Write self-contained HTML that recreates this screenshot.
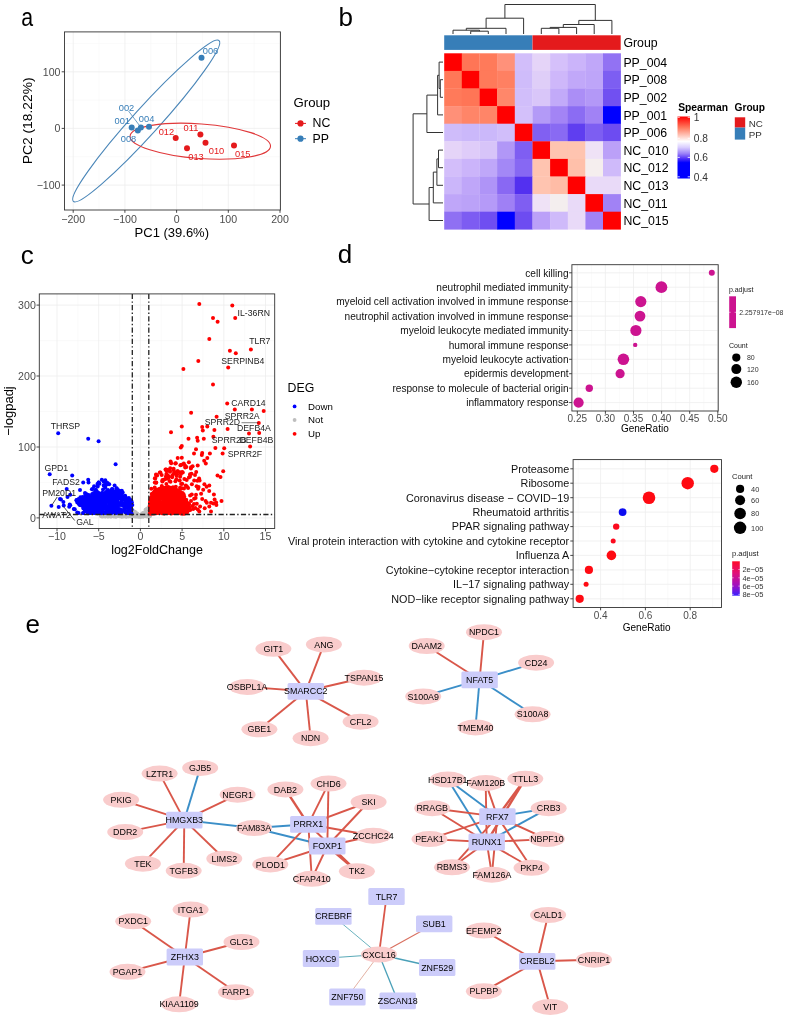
<!DOCTYPE html>
<html><head><meta charset="utf-8"><title>Figure</title>
<style>html,body{margin:0;padding:0;background:#fff;}svg{display:block;font-family:"Liberation Sans", Arial, sans-serif;}</style></head>
<body><svg width="785" height="1017" viewBox="0 0 785 1017">
<rect width="785" height="1017" fill="#fff"/>
<text x="338.5" y="25.8" font-size="26" fill="#000" text-anchor="start" >b</text>
<text x="20.8" y="263.6" font-size="26" fill="#000" text-anchor="start" >c</text>
<text x="337.8" y="263" font-size="26" fill="#000" text-anchor="start" >d</text>
<text x="25.4" y="633" font-size="26" fill="#000" text-anchor="start" >e</text>
<text x="0" y="0" font-size="26" fill="#000" transform="translate(21.2 25.8) scale(0.82 1)">a</text>
<line x1="99" y1="31.9" x2="99" y2="210" stroke="#f5f5f5" stroke-width="0.5" />
<line x1="150.8" y1="31.9" x2="150.8" y2="210" stroke="#f5f5f5" stroke-width="0.5" />
<line x1="202.4" y1="31.9" x2="202.4" y2="210" stroke="#f5f5f5" stroke-width="0.5" />
<line x1="254.1" y1="31.9" x2="254.1" y2="210" stroke="#f5f5f5" stroke-width="0.5" />
<line x1="64.5" y1="156.7" x2="280.4" y2="156.7" stroke="#f5f5f5" stroke-width="0.5" />
<line x1="64.5" y1="100.1" x2="280.4" y2="100.1" stroke="#f5f5f5" stroke-width="0.5" />
<line x1="64.5" y1="43.4" x2="280.4" y2="43.4" stroke="#f5f5f5" stroke-width="0.5" />
<line x1="73.2" y1="31.9" x2="73.2" y2="210" stroke="#eeeeee" stroke-width="0.8" />
<line x1="124.9" y1="31.9" x2="124.9" y2="210" stroke="#eeeeee" stroke-width="0.8" />
<line x1="176.6" y1="31.9" x2="176.6" y2="210" stroke="#eeeeee" stroke-width="0.8" />
<line x1="228.3" y1="31.9" x2="228.3" y2="210" stroke="#eeeeee" stroke-width="0.8" />
<line x1="280" y1="31.9" x2="280" y2="210" stroke="#eeeeee" stroke-width="0.8" />
<line x1="64.5" y1="185.1" x2="280.4" y2="185.1" stroke="#eeeeee" stroke-width="0.8" />
<line x1="64.5" y1="128.4" x2="280.4" y2="128.4" stroke="#eeeeee" stroke-width="0.8" />
<line x1="64.5" y1="71.8" x2="280.4" y2="71.8" stroke="#eeeeee" stroke-width="0.8" />
<ellipse cx="146.2" cy="121" rx="108.5" ry="13.2" transform="rotate(-47.8 146.2 121)" fill="none" stroke="#4a86b8" stroke-width="1.1"/>
<ellipse cx="200.3" cy="141.2" rx="70.4" ry="17.3" transform="rotate(4.2 200.3 141.2)" fill="none" stroke="#e0383a" stroke-width="1.1"/>
<circle cx="131.7" cy="127.5" r="3" fill="#377eb8"/>
<circle cx="137.8" cy="130.6" r="3" fill="#377eb8"/>
<circle cx="140.9" cy="127.5" r="3" fill="#377eb8"/>
<circle cx="149" cy="126.8" r="3" fill="#377eb8"/>
<circle cx="201.5" cy="57.7" r="3" fill="#377eb8"/>
<circle cx="175.7" cy="138" r="3" fill="#e41a1c"/>
<circle cx="200.4" cy="134.4" r="3" fill="#e41a1c"/>
<circle cx="205.5" cy="142.8" r="3" fill="#e41a1c"/>
<circle cx="187" cy="148.2" r="3" fill="#e41a1c"/>
<circle cx="234" cy="145.6" r="3" fill="#e41a1c"/>
<line x1="128.5" y1="111" x2="139.5" y2="125.5" stroke="#4a86b8" stroke-width="0.8" />
<text x="126.5" y="110.5" font-size="9.3" fill="#377eb8" text-anchor="middle" >002</text>
<text x="122.3" y="123.5" font-size="9.3" fill="#377eb8" text-anchor="middle" >001</text>
<text x="128.5" y="142.2" font-size="9.3" fill="#377eb8" text-anchor="middle" >008</text>
<text x="146.6" y="121.8" font-size="9.3" fill="#377eb8" text-anchor="middle" >004</text>
<text x="210.5" y="53.5" font-size="9.3" fill="#377eb8" text-anchor="middle" >006</text>
<text x="166.4" y="134.8" font-size="9.3" fill="#e41a1c" text-anchor="middle" >012</text>
<text x="191" y="131" font-size="9.3" fill="#e41a1c" text-anchor="middle" >011</text>
<text x="216.5" y="153.9" font-size="9.3" fill="#e41a1c" text-anchor="middle" >010</text>
<text x="196" y="159.8" font-size="9.3" fill="#e41a1c" text-anchor="middle" >013</text>
<text x="242.8" y="156.5" font-size="9.3" fill="#e41a1c" text-anchor="middle" >015</text>
<rect x="64.5" y="31.9" width="215.89999999999998" height="178.1" fill="none" stroke="#333" stroke-width="0.9"/>
<line x1="73.2" y1="210" x2="73.2" y2="212.8" stroke="#333" stroke-width="0.9" />
<text x="73.2" y="222.8" font-size="10.6" fill="#4d4d4d" text-anchor="middle" >−200</text>
<line x1="124.9" y1="210" x2="124.9" y2="212.8" stroke="#333" stroke-width="0.9" />
<text x="124.9" y="222.8" font-size="10.6" fill="#4d4d4d" text-anchor="middle" >−100</text>
<line x1="176.6" y1="210" x2="176.6" y2="212.8" stroke="#333" stroke-width="0.9" />
<text x="176.6" y="222.8" font-size="10.6" fill="#4d4d4d" text-anchor="middle" >0</text>
<line x1="228.3" y1="210" x2="228.3" y2="212.8" stroke="#333" stroke-width="0.9" />
<text x="228.3" y="222.8" font-size="10.6" fill="#4d4d4d" text-anchor="middle" >100</text>
<line x1="280" y1="210" x2="280" y2="212.8" stroke="#333" stroke-width="0.9" />
<text x="280" y="222.8" font-size="10.6" fill="#4d4d4d" text-anchor="middle" >200</text>
<line x1="61.7" y1="185.1" x2="64.5" y2="185.1" stroke="#333" stroke-width="0.9" />
<text x="60.5" y="188.9" font-size="10.6" fill="#4d4d4d" text-anchor="end" >−100</text>
<line x1="61.7" y1="128.4" x2="64.5" y2="128.4" stroke="#333" stroke-width="0.9" />
<text x="60.5" y="132.2" font-size="10.6" fill="#4d4d4d" text-anchor="end" >0</text>
<line x1="61.7" y1="71.8" x2="64.5" y2="71.8" stroke="#333" stroke-width="0.9" />
<text x="60.5" y="75.5" font-size="10.6" fill="#4d4d4d" text-anchor="end" >100</text>
<text x="171.8" y="236.8" font-size="13" fill="#000" text-anchor="middle" >PC1 (39.6%)</text>
<text transform="translate(31.7 120.8) rotate(-90)" font-size="13.4" fill="#000" text-anchor="middle" textLength="87" lengthAdjust="spacingAndGlyphs">PC2 (18.22%)</text>
<text x="293.5" y="106.9" font-size="13.2" fill="#000" text-anchor="start" >Group</text>
<line x1="295" y1="123.4" x2="306" y2="123.4" stroke="#e41a1c" stroke-width="1" />
<circle cx="300.5" cy="123.4" r="3.1" fill="#e41a1c"/>
<text x="312.6" y="127.3" font-size="12.3" fill="#000" text-anchor="start" >NC</text>
<line x1="295" y1="138.7" x2="306" y2="138.7" stroke="#377eb8" stroke-width="1" />
<circle cx="300.5" cy="138.7" r="3.1" fill="#377eb8"/>
<text x="312.6" y="142.6" font-size="12.3" fill="#000" text-anchor="start" >PP</text>
<rect x="444.2" y="53.3" width="17.9" height="17.9" fill="#FF0000"/>
<rect x="461.8" y="53.3" width="17.9" height="17.9" fill="#FF7556"/>
<rect x="479.5" y="53.3" width="17.9" height="17.9" fill="#FF7A5A"/>
<rect x="497.1" y="53.3" width="17.9" height="17.9" fill="#FF917A"/>
<rect x="514.8" y="53.3" width="17.9" height="17.9" fill="#D2BEFA"/>
<rect x="532.5" y="53.3" width="17.9" height="17.9" fill="#E5D4F8"/>
<rect x="550.1" y="53.3" width="17.9" height="17.9" fill="#D5C0FA"/>
<rect x="567.8" y="53.3" width="17.9" height="17.9" fill="#CBB4FA"/>
<rect x="585.4" y="53.3" width="17.9" height="17.9" fill="#C0A7F9"/>
<rect x="603" y="53.3" width="17.9" height="17.9" fill="#9272F3"/>
<rect x="444.2" y="70.9" width="17.9" height="17.9" fill="#FF7858"/>
<rect x="461.8" y="70.9" width="17.9" height="17.9" fill="#FF0000"/>
<rect x="479.5" y="70.9" width="17.9" height="17.9" fill="#FF7A5A"/>
<rect x="497.1" y="70.9" width="17.9" height="17.9" fill="#FF8062"/>
<rect x="514.8" y="70.9" width="17.9" height="17.9" fill="#CFBCFA"/>
<rect x="532.5" y="70.9" width="17.9" height="17.9" fill="#DFCEF8"/>
<rect x="550.1" y="70.9" width="17.9" height="17.9" fill="#CEB7FA"/>
<rect x="567.8" y="70.9" width="17.9" height="17.9" fill="#C1A8F9"/>
<rect x="585.4" y="70.9" width="17.9" height="17.9" fill="#BEA5F9"/>
<rect x="603" y="70.9" width="17.9" height="17.9" fill="#7D5EF2"/>
<rect x="444.2" y="88.5" width="17.9" height="17.9" fill="#FF7A5A"/>
<rect x="461.8" y="88.5" width="17.9" height="17.9" fill="#FF7556"/>
<rect x="479.5" y="88.5" width="17.9" height="17.9" fill="#FF0000"/>
<rect x="497.1" y="88.5" width="17.9" height="17.9" fill="#FF876A"/>
<rect x="514.8" y="88.5" width="17.9" height="17.9" fill="#D1BEFA"/>
<rect x="532.5" y="88.5" width="17.9" height="17.9" fill="#D9C6F9"/>
<rect x="550.1" y="88.5" width="17.9" height="17.9" fill="#C2AAF9"/>
<rect x="567.8" y="88.5" width="17.9" height="17.9" fill="#AB8EF6"/>
<rect x="585.4" y="88.5" width="17.9" height="17.9" fill="#B398F7"/>
<rect x="603" y="88.5" width="17.9" height="17.9" fill="#7150F1"/>
<rect x="444.2" y="106.1" width="17.9" height="17.9" fill="#FF9078"/>
<rect x="461.8" y="106.1" width="17.9" height="17.9" fill="#FF8568"/>
<rect x="479.5" y="106.1" width="17.9" height="17.9" fill="#FF8568"/>
<rect x="497.1" y="106.1" width="17.9" height="17.9" fill="#FF0000"/>
<rect x="514.8" y="106.1" width="17.9" height="17.9" fill="#D3C0FA"/>
<rect x="532.5" y="106.1" width="17.9" height="17.9" fill="#B39AF7"/>
<rect x="550.1" y="106.1" width="17.9" height="17.9" fill="#A384F5"/>
<rect x="567.8" y="106.1" width="17.9" height="17.9" fill="#8B6CF3"/>
<rect x="585.4" y="106.1" width="17.9" height="17.9" fill="#A182F5"/>
<rect x="603" y="106.1" width="17.9" height="17.9" fill="#0000FF"/>
<rect x="444.2" y="123.7" width="17.9" height="17.9" fill="#CFBCFA"/>
<rect x="461.8" y="123.7" width="17.9" height="17.9" fill="#CBB8FA"/>
<rect x="479.5" y="123.7" width="17.9" height="17.9" fill="#CBB8FA"/>
<rect x="497.1" y="123.7" width="17.9" height="17.9" fill="#D1BEFA"/>
<rect x="514.8" y="123.7" width="17.9" height="17.9" fill="#FF0000"/>
<rect x="532.5" y="123.7" width="17.9" height="17.9" fill="#8160F2"/>
<rect x="550.1" y="123.7" width="17.9" height="17.9" fill="#896AF3"/>
<rect x="567.8" y="123.7" width="17.9" height="17.9" fill="#5F3EF0"/>
<rect x="585.4" y="123.7" width="17.9" height="17.9" fill="#7D5EF2"/>
<rect x="603" y="123.7" width="17.9" height="17.9" fill="#6D4CF1"/>
<rect x="444.2" y="141.3" width="17.9" height="17.9" fill="#E5D4F8"/>
<rect x="461.8" y="141.3" width="17.9" height="17.9" fill="#DFCCF9"/>
<rect x="479.5" y="141.3" width="17.9" height="17.9" fill="#D7C4F9"/>
<rect x="497.1" y="141.3" width="17.9" height="17.9" fill="#B197F7"/>
<rect x="514.8" y="141.3" width="17.9" height="17.9" fill="#7F5EF2"/>
<rect x="532.5" y="141.3" width="17.9" height="17.9" fill="#FF0000"/>
<rect x="550.1" y="141.3" width="17.9" height="17.9" fill="#FFC4B0"/>
<rect x="567.8" y="141.3" width="17.9" height="17.9" fill="#FFC4B0"/>
<rect x="585.4" y="141.3" width="17.9" height="17.9" fill="#EFE2F6"/>
<rect x="603" y="141.3" width="17.9" height="17.9" fill="#BBA0F8"/>
<rect x="444.2" y="158.9" width="17.9" height="17.9" fill="#D3BEFA"/>
<rect x="461.8" y="158.9" width="17.9" height="17.9" fill="#CBB4FA"/>
<rect x="479.5" y="158.9" width="17.9" height="17.9" fill="#BFA7F9"/>
<rect x="497.1" y="158.9" width="17.9" height="17.9" fill="#A388F6"/>
<rect x="514.8" y="158.9" width="17.9" height="17.9" fill="#8768F3"/>
<rect x="532.5" y="158.9" width="17.9" height="17.9" fill="#FFC4B0"/>
<rect x="550.1" y="158.9" width="17.9" height="17.9" fill="#FF0000"/>
<rect x="567.8" y="158.9" width="17.9" height="17.9" fill="#FFC0AA"/>
<rect x="585.4" y="158.9" width="17.9" height="17.9" fill="#F5EEEE"/>
<rect x="603" y="158.9" width="17.9" height="17.9" fill="#CFBAFA"/>
<rect x="444.2" y="176.5" width="17.9" height="17.9" fill="#CBB6FA"/>
<rect x="461.8" y="176.5" width="17.9" height="17.9" fill="#BFA6F9"/>
<rect x="479.5" y="176.5" width="17.9" height="17.9" fill="#AF94F7"/>
<rect x="497.1" y="176.5" width="17.9" height="17.9" fill="#8968F3"/>
<rect x="514.8" y="176.5" width="17.9" height="17.9" fill="#5330F0"/>
<rect x="532.5" y="176.5" width="17.9" height="17.9" fill="#FFC4B0"/>
<rect x="550.1" y="176.5" width="17.9" height="17.9" fill="#FFBCA6"/>
<rect x="567.8" y="176.5" width="17.9" height="17.9" fill="#FF0000"/>
<rect x="585.4" y="176.5" width="17.9" height="17.9" fill="#E9DAF8"/>
<rect x="603" y="176.5" width="17.9" height="17.9" fill="#E9DAF8"/>
<rect x="444.2" y="194.1" width="17.9" height="17.9" fill="#BFA6F9"/>
<rect x="461.8" y="194.1" width="17.9" height="17.9" fill="#BBA2F8"/>
<rect x="479.5" y="194.1" width="17.9" height="17.9" fill="#B59AF8"/>
<rect x="497.1" y="194.1" width="17.9" height="17.9" fill="#9F80F5"/>
<rect x="514.8" y="194.1" width="17.9" height="17.9" fill="#7F5EF2"/>
<rect x="532.5" y="194.1" width="17.9" height="17.9" fill="#EFE2F6"/>
<rect x="550.1" y="194.1" width="17.9" height="17.9" fill="#F4EEEE"/>
<rect x="567.8" y="194.1" width="17.9" height="17.9" fill="#E9DAF8"/>
<rect x="585.4" y="194.1" width="17.9" height="17.9" fill="#FF0000"/>
<rect x="603" y="194.1" width="17.9" height="17.9" fill="#A182F5"/>
<rect x="444.2" y="211.7" width="17.9" height="17.9" fill="#8F70F3"/>
<rect x="461.8" y="211.7" width="17.9" height="17.9" fill="#7D5CF2"/>
<rect x="479.5" y="211.7" width="17.9" height="17.9" fill="#6F4EF1"/>
<rect x="497.1" y="211.7" width="17.9" height="17.9" fill="#0000FF"/>
<rect x="514.8" y="211.7" width="17.9" height="17.9" fill="#6D4CF1"/>
<rect x="532.5" y="211.7" width="17.9" height="17.9" fill="#BBA0F8"/>
<rect x="550.1" y="211.7" width="17.9" height="17.9" fill="#CFBAFA"/>
<rect x="567.8" y="211.7" width="17.9" height="17.9" fill="#E9DAF8"/>
<rect x="585.4" y="211.7" width="17.9" height="17.9" fill="#A182F5"/>
<rect x="603" y="211.7" width="17.9" height="17.9" fill="#FF0000"/>
<rect x="444.2" y="35.3" width="88.2" height="14.6" fill="#377eb8"/>
<rect x="532.5" y="35.3" width="88.2" height="14.6" fill="#e41a1c"/>
<text x="623.4" y="47.4" font-size="12.3" fill="#000" text-anchor="start" >Group</text>
<text x="623.4" y="66.7" font-size="12.3" fill="#000" text-anchor="start" >PP_004</text>
<text x="623.4" y="84.3" font-size="12.3" fill="#000" text-anchor="start" >PP_008</text>
<text x="623.4" y="101.9" font-size="12.3" fill="#000" text-anchor="start" >PP_002</text>
<text x="623.4" y="119.5" font-size="12.3" fill="#000" text-anchor="start" >PP_001</text>
<text x="623.4" y="137.1" font-size="12.3" fill="#000" text-anchor="start" >PP_006</text>
<text x="623.4" y="154.7" font-size="12.3" fill="#000" text-anchor="start" >NC_010</text>
<text x="623.4" y="172.3" font-size="12.3" fill="#000" text-anchor="start" >NC_012</text>
<text x="623.4" y="189.9" font-size="12.3" fill="#000" text-anchor="start" >NC_013</text>
<text x="623.4" y="207.5" font-size="12.3" fill="#000" text-anchor="start" >NC_011</text>
<text x="623.4" y="225.1" font-size="12.3" fill="#000" text-anchor="start" >NC_015</text>
<path d="M470.7 34.0 V31.2 H488.3 V34.0" stroke="#333" stroke-width="1" fill="none"/>
<path d="M453 34.0 V30.2 H479.5 V31.2" stroke="#333" stroke-width="1" fill="none"/>
<path d="M466.3 30.2 V28.3 H506 V34.0" stroke="#333" stroke-width="1" fill="none"/>
<path d="M486.1 28.3 V18.2 H523.6 V34.0" stroke="#333" stroke-width="1" fill="none"/>
<path d="M541.3 34.0 V28.3 H558.9 V34.0" stroke="#333" stroke-width="1" fill="none"/>
<path d="M550.1 28.3 V27.4 H576.6 V34.0" stroke="#333" stroke-width="1" fill="none"/>
<path d="M563.3 27.4 V24.5 H594.2 V34.0" stroke="#333" stroke-width="1" fill="none"/>
<path d="M578.8 24.5 V20.4 H611.9 V34.0" stroke="#333" stroke-width="1" fill="none"/>
<path d="M504.9 18.2 V4.5 H595.3 V20.4" stroke="#333" stroke-width="1" fill="none"/>
<path d="M443.0 79.7 H440.3 V97.3 H443.0" stroke="#333" stroke-width="1" fill="none"/>
<path d="M443.0 62.1 H439.1 V88.5 H440.3" stroke="#333" stroke-width="1" fill="none"/>
<path d="M439.1 75.3 H437.6 V114.9 H443.0" stroke="#333" stroke-width="1" fill="none"/>
<path d="M437.6 95.1 H426.9 V132.5 H443.0" stroke="#333" stroke-width="1" fill="none"/>
<path d="M443.0 150.1 H438.5 V167.7 H443.0" stroke="#333" stroke-width="1" fill="none"/>
<path d="M438.5 158.9 H436.9 V185.3 H443.0" stroke="#333" stroke-width="1" fill="none"/>
<path d="M436.9 172.1 H433.3 V202.9 H443.0" stroke="#333" stroke-width="1" fill="none"/>
<path d="M433.3 187.5 H429.1 V220.5 H443.0" stroke="#333" stroke-width="1" fill="none"/>
<path d="M426.9 113.8 H413.1 V204 H429.1" stroke="#333" stroke-width="1" fill="none"/>
<text x="678.2" y="111" font-size="10.3" fill="#000" text-anchor="start" font-weight="bold">Spearman</text>
<defs><linearGradient id="sp" x1="0" y1="0" x2="0" y2="1"><stop offset="0" stop-color="#ff0000"/><stop offset="0.18" stop-color="#ff7a5e"/><stop offset="0.40" stop-color="#ffffff"/><stop offset="0.5" stop-color="#d8ccff"/><stop offset="0.6" stop-color="#9a80f8"/><stop offset="0.68" stop-color="#5030f8"/><stop offset="0.745" stop-color="#0000ff"/><stop offset="1" stop-color="#0000ff"/></linearGradient></defs>
<rect x="677.5" y="116.5" width="12.5" height="62" fill="url(#sp)"/>
<line x1="677.5" y1="117.3" x2="679.8" y2="117.3" stroke="#fff" stroke-width="0.8" />
<line x1="687.7" y1="117.3" x2="690" y2="117.3" stroke="#fff" stroke-width="0.8" />
<text x="693.8" y="121" font-size="10.2" fill="#333" text-anchor="start" >1</text>
<line x1="677.5" y1="138.3" x2="679.8" y2="138.3" stroke="#fff" stroke-width="0.8" />
<line x1="687.7" y1="138.3" x2="690" y2="138.3" stroke="#fff" stroke-width="0.8" />
<text x="693.8" y="142" font-size="10.2" fill="#333" text-anchor="start" >0.8</text>
<line x1="677.5" y1="157.4" x2="679.8" y2="157.4" stroke="#fff" stroke-width="0.8" />
<line x1="687.7" y1="157.4" x2="690" y2="157.4" stroke="#fff" stroke-width="0.8" />
<text x="693.8" y="161.1" font-size="10.2" fill="#333" text-anchor="start" >0.6</text>
<line x1="677.5" y1="176.8" x2="679.8" y2="176.8" stroke="#fff" stroke-width="0.8" />
<line x1="687.7" y1="176.8" x2="690" y2="176.8" stroke="#fff" stroke-width="0.8" />
<text x="693.8" y="180.5" font-size="10.2" fill="#333" text-anchor="start" >0.4</text>
<text x="734.5" y="111" font-size="10.2" fill="#000" text-anchor="start" font-weight="bold">Group</text>
<rect x="734.8" y="117.3" width="10.4" height="10.3" fill="#e41a1c"/>
<rect x="734.8" y="127.6" width="10.4" height="12" fill="#377eb8"/>
<text x="748.8" y="126.6" font-size="9.8" fill="#333" text-anchor="start" >NC</text>
<text x="748.8" y="137.8" font-size="9.8" fill="#333" text-anchor="start" >PP</text>
<line x1="77.9" y1="293.9" x2="77.9" y2="528.5" stroke="#f5f5f5" stroke-width="0.5" />
<line x1="119.6" y1="293.9" x2="119.6" y2="528.5" stroke="#f5f5f5" stroke-width="0.5" />
<line x1="161.2" y1="293.9" x2="161.2" y2="528.5" stroke="#f5f5f5" stroke-width="0.5" />
<line x1="202.9" y1="293.9" x2="202.9" y2="528.5" stroke="#f5f5f5" stroke-width="0.5" />
<line x1="244.7" y1="293.9" x2="244.7" y2="528.5" stroke="#f5f5f5" stroke-width="0.5" />
<line x1="39.3" y1="482.4" x2="274.7" y2="482.4" stroke="#f5f5f5" stroke-width="0.5" />
<line x1="39.3" y1="411.5" x2="274.7" y2="411.5" stroke="#f5f5f5" stroke-width="0.5" />
<line x1="39.3" y1="340.6" x2="274.7" y2="340.6" stroke="#f5f5f5" stroke-width="0.5" />
<line x1="57" y1="293.9" x2="57" y2="528.5" stroke="#eeeeee" stroke-width="0.8" />
<line x1="98.7" y1="293.9" x2="98.7" y2="528.5" stroke="#eeeeee" stroke-width="0.8" />
<line x1="140.4" y1="293.9" x2="140.4" y2="528.5" stroke="#eeeeee" stroke-width="0.8" />
<line x1="182.1" y1="293.9" x2="182.1" y2="528.5" stroke="#eeeeee" stroke-width="0.8" />
<line x1="223.8" y1="293.9" x2="223.8" y2="528.5" stroke="#eeeeee" stroke-width="0.8" />
<line x1="265.5" y1="293.9" x2="265.5" y2="528.5" stroke="#eeeeee" stroke-width="0.8" />
<line x1="39.3" y1="517.9" x2="274.7" y2="517.9" stroke="#eeeeee" stroke-width="0.8" />
<line x1="39.3" y1="447" x2="274.7" y2="447" stroke="#eeeeee" stroke-width="0.8" />
<line x1="39.3" y1="376" x2="274.7" y2="376" stroke="#eeeeee" stroke-width="0.8" />
<line x1="39.3" y1="305.1" x2="274.7" y2="305.1" stroke="#eeeeee" stroke-width="0.8" />
<g fill="#bebebe"><circle cx="131.6" cy="516.4" r="2.0"/><circle cx="139.0" cy="515.2" r="2.0"/><circle cx="115.7" cy="516.4" r="2.0"/><circle cx="101.3" cy="516.3" r="2.0"/><circle cx="140.1" cy="515.6" r="2.0"/><circle cx="115.8" cy="515.3" r="2.0"/><circle cx="113.5" cy="515.6" r="2.0"/><circle cx="125.7" cy="515.8" r="2.0"/><circle cx="149.8" cy="516.2" r="2.0"/><circle cx="131.5" cy="516.6" r="2.0"/><circle cx="111.6" cy="515.1" r="2.0"/><circle cx="131.0" cy="514.9" r="2.0"/><circle cx="102.7" cy="515.7" r="2.0"/><circle cx="123.8" cy="516.5" r="2.0"/><circle cx="131.8" cy="515.7" r="2.0"/><circle cx="125.3" cy="515.2" r="2.0"/><circle cx="101.6" cy="515.1" r="2.0"/><circle cx="134.9" cy="515.2" r="2.0"/><circle cx="119.1" cy="514.8" r="2.0"/><circle cx="141.7" cy="515.1" r="2.0"/><circle cx="114.1" cy="516.4" r="2.0"/><circle cx="126.0" cy="516.3" r="2.0"/><circle cx="132.3" cy="516.1" r="2.0"/><circle cx="105.5" cy="515.8" r="2.0"/><circle cx="125.9" cy="516.4" r="2.0"/><circle cx="118.7" cy="515.9" r="2.0"/><circle cx="103.9" cy="515.5" r="2.0"/><circle cx="116.8" cy="515.1" r="2.0"/><circle cx="141.0" cy="515.5" r="2.0"/><circle cx="149.0" cy="515.9" r="2.0"/><circle cx="130.6" cy="515.9" r="2.0"/><circle cx="134.1" cy="515.1" r="2.0"/><circle cx="122.6" cy="515.2" r="2.0"/><circle cx="120.7" cy="515.0" r="2.0"/><circle cx="148.4" cy="515.2" r="2.0"/><circle cx="133.9" cy="515.3" r="2.0"/><circle cx="143.8" cy="516.0" r="2.0"/><circle cx="107.4" cy="516.3" r="2.0"/><circle cx="147.3" cy="516.4" r="2.0"/><circle cx="128.9" cy="515.1" r="2.0"/><circle cx="110.4" cy="516.5" r="2.0"/><circle cx="128.1" cy="515.1" r="2.0"/><circle cx="144.3" cy="516.0" r="2.0"/><circle cx="128.9" cy="515.5" r="2.0"/><circle cx="121.1" cy="515.2" r="2.0"/><circle cx="102.9" cy="516.4" r="2.0"/><circle cx="123.9" cy="515.8" r="2.0"/><circle cx="116.8" cy="516.2" r="2.0"/><circle cx="102.2" cy="515.5" r="2.0"/><circle cx="102.5" cy="515.0" r="2.0"/><circle cx="148.4" cy="516.0" r="2.0"/><circle cx="122.0" cy="515.7" r="2.0"/><circle cx="143.8" cy="515.4" r="2.0"/><circle cx="129.9" cy="516.0" r="2.0"/><circle cx="118.4" cy="515.7" r="2.0"/><circle cx="138.5" cy="516.4" r="2.0"/><circle cx="108.4" cy="516.5" r="2.0"/><circle cx="101.3" cy="516.2" r="2.0"/><circle cx="140.7" cy="515.0" r="2.0"/><circle cx="121.5" cy="516.3" r="2.0"/><circle cx="101.7" cy="515.9" r="2.0"/><circle cx="139.9" cy="515.7" r="2.0"/><circle cx="136.6" cy="515.2" r="2.0"/><circle cx="110.7" cy="515.5" r="2.0"/><circle cx="109.8" cy="515.4" r="2.0"/><circle cx="147.5" cy="515.8" r="2.0"/><circle cx="117.7" cy="515.3" r="2.0"/><circle cx="147.6" cy="515.6" r="2.0"/><circle cx="149.0" cy="515.7" r="2.0"/><circle cx="126.5" cy="516.4" r="2.0"/><circle cx="137.4" cy="515.8" r="2.0"/><circle cx="121.9" cy="516.4" r="2.0"/><circle cx="121.2" cy="516.5" r="2.0"/><circle cx="104.4" cy="515.6" r="2.0"/><circle cx="126.5" cy="516.5" r="2.0"/><circle cx="113.3" cy="516.3" r="2.0"/><circle cx="134.1" cy="516.1" r="2.0"/><circle cx="131.9" cy="516.5" r="2.0"/><circle cx="117.3" cy="515.5" r="2.0"/><circle cx="110.9" cy="514.9" r="2.0"/><circle cx="111.4" cy="516.4" r="2.0"/><circle cx="142.2" cy="515.0" r="2.0"/><circle cx="130.6" cy="515.7" r="2.0"/><circle cx="130.1" cy="516.0" r="2.0"/><circle cx="116.0" cy="516.5" r="2.0"/><circle cx="123.8" cy="515.9" r="2.0"/><circle cx="132.1" cy="515.1" r="2.0"/><circle cx="104.0" cy="515.5" r="2.0"/><circle cx="138.4" cy="516.3" r="2.0"/><circle cx="136.8" cy="515.0" r="2.0"/><circle cx="145.8" cy="516.2" r="2.0"/><circle cx="144.0" cy="515.7" r="2.0"/><circle cx="145.9" cy="514.9" r="2.0"/><circle cx="102.5" cy="514.8" r="2.0"/><circle cx="113.4" cy="515.2" r="2.0"/><circle cx="110.2" cy="515.8" r="2.0"/><circle cx="102.9" cy="515.9" r="2.0"/><circle cx="109.1" cy="516.0" r="2.0"/><circle cx="102.0" cy="515.4" r="2.0"/><circle cx="147.0" cy="515.8" r="2.0"/><circle cx="140.8" cy="516.0" r="2.0"/><circle cx="130.9" cy="515.1" r="2.0"/><circle cx="129.1" cy="514.9" r="2.0"/><circle cx="140.3" cy="516.5" r="2.0"/><circle cx="142.8" cy="514.9" r="2.0"/><circle cx="117.6" cy="515.4" r="2.0"/><circle cx="106.5" cy="515.9" r="2.0"/><circle cx="140.1" cy="515.4" r="2.0"/><circle cx="143.3" cy="516.2" r="2.0"/><circle cx="107.3" cy="516.2" r="2.0"/><circle cx="144.2" cy="515.2" r="2.0"/><circle cx="129.1" cy="515.9" r="2.0"/><circle cx="130.9" cy="515.0" r="2.0"/><circle cx="133.4" cy="515.9" r="2.0"/><circle cx="141.4" cy="516.2" r="2.0"/><circle cx="117.0" cy="516.1" r="2.0"/><circle cx="143.5" cy="516.4" r="2.0"/><circle cx="108.9" cy="514.8" r="2.0"/><circle cx="132.9" cy="515.2" r="2.0"/><circle cx="128.6" cy="516.5" r="2.0"/><circle cx="119.6" cy="515.3" r="2.0"/><circle cx="123.4" cy="516.0" r="2.0"/><circle cx="106.0" cy="515.5" r="2.0"/><circle cx="107.6" cy="516.0" r="2.0"/><circle cx="141.7" cy="515.5" r="2.0"/><circle cx="119.2" cy="515.8" r="2.0"/><circle cx="111.5" cy="515.2" r="2.0"/><circle cx="117.2" cy="515.6" r="2.0"/><circle cx="105.0" cy="516.2" r="2.0"/><circle cx="129.4" cy="515.3" r="2.0"/><circle cx="104.8" cy="516.2" r="2.0"/><circle cx="107.4" cy="515.0" r="2.0"/><circle cx="107.4" cy="514.9" r="2.0"/><circle cx="145.4" cy="515.3" r="2.0"/><circle cx="116.0" cy="516.3" r="2.0"/><circle cx="131.4" cy="515.1" r="2.0"/><circle cx="122.3" cy="516.4" r="2.0"/><circle cx="119.4" cy="516.1" r="2.0"/><circle cx="105.7" cy="516.1" r="2.0"/><circle cx="139.0" cy="516.3" r="2.0"/><circle cx="134.0" cy="515.5" r="2.0"/><circle cx="104.1" cy="515.7" r="2.0"/><circle cx="138.1" cy="515.1" r="2.0"/><circle cx="114.0" cy="515.8" r="2.0"/><circle cx="137.7" cy="516.4" r="2.0"/><circle cx="107.2" cy="515.1" r="2.0"/><circle cx="140.2" cy="516.0" r="2.0"/><circle cx="136.3" cy="516.6" r="2.0"/><circle cx="147.0" cy="516.3" r="2.0"/><circle cx="139.1" cy="515.5" r="2.0"/><circle cx="132.4" cy="515.1" r="2.0"/><circle cx="138.2" cy="516.2" r="2.0"/><circle cx="136.3" cy="515.6" r="2.0"/><circle cx="119.5" cy="515.6" r="2.0"/><circle cx="102.6" cy="516.3" r="2.0"/><circle cx="127.6" cy="515.5" r="2.0"/><circle cx="127.9" cy="516.1" r="2.0"/><circle cx="119.7" cy="516.3" r="2.0"/><circle cx="146.1" cy="515.5" r="2.0"/><circle cx="107.8" cy="516.2" r="2.0"/><circle cx="149.7" cy="515.1" r="2.0"/><circle cx="135.9" cy="516.3" r="2.0"/><circle cx="146.1" cy="515.0" r="2.0"/><circle cx="105.5" cy="516.6" r="2.0"/><circle cx="106.7" cy="515.1" r="2.0"/><circle cx="129.2" cy="515.6" r="2.0"/><circle cx="137.8" cy="515.1" r="2.0"/><circle cx="145.8" cy="515.2" r="2.0"/><circle cx="138.7" cy="514.9" r="2.0"/><circle cx="124.2" cy="514.9" r="2.0"/><circle cx="143.1" cy="513.6" r="2.0"/><circle cx="147.2" cy="511.8" r="2.0"/><circle cx="140.6" cy="516.5" r="2.0"/><circle cx="148.9" cy="515.6" r="2.0"/><circle cx="142.5" cy="514.4" r="2.0"/><circle cx="142.3" cy="513.7" r="2.0"/><circle cx="140.3" cy="516.1" r="2.0"/><circle cx="141.2" cy="514.9" r="2.0"/><circle cx="148.6" cy="511.3" r="2.0"/><circle cx="141.8" cy="515.6" r="2.0"/><circle cx="142.7" cy="514.8" r="2.0"/><circle cx="142.8" cy="514.6" r="2.0"/><circle cx="146.3" cy="512.9" r="2.0"/><circle cx="144.0" cy="515.4" r="2.0"/><circle cx="148.7" cy="508.1" r="2.0"/><circle cx="141.4" cy="514.6" r="2.0"/><circle cx="149.8" cy="515.8" r="2.0"/><circle cx="142.3" cy="516.4" r="2.0"/><circle cx="142.1" cy="515.0" r="2.0"/><circle cx="145.0" cy="515.9" r="2.0"/><circle cx="140.4" cy="515.8" r="2.0"/><circle cx="146.0" cy="509.5" r="2.0"/><circle cx="142.4" cy="514.7" r="2.0"/><circle cx="148.8" cy="514.0" r="2.0"/><circle cx="148.3" cy="514.2" r="2.0"/><circle cx="147.1" cy="515.2" r="2.0"/><circle cx="146.8" cy="514.3" r="2.0"/><circle cx="143.0" cy="513.1" r="2.0"/><circle cx="147.6" cy="508.9" r="2.0"/><circle cx="149.2" cy="512.2" r="2.0"/><circle cx="143.3" cy="516.2" r="2.0"/><circle cx="141.6" cy="515.4" r="2.0"/><circle cx="140.9" cy="516.4" r="2.0"/><circle cx="145.8" cy="515.1" r="2.0"/><circle cx="142.8" cy="515.7" r="2.0"/><circle cx="147.0" cy="513.5" r="2.0"/><circle cx="149.5" cy="510.3" r="2.0"/><circle cx="144.2" cy="514.8" r="2.0"/><circle cx="148.4" cy="510.0" r="2.0"/><circle cx="146.7" cy="510.0" r="2.0"/><circle cx="145.5" cy="514.9" r="2.0"/><circle cx="140.7" cy="516.2" r="2.0"/><circle cx="140.2" cy="516.5" r="2.0"/><circle cx="144.7" cy="512.9" r="2.0"/><circle cx="147.2" cy="512.4" r="2.0"/><circle cx="147.3" cy="508.4" r="2.0"/><circle cx="145.6" cy="513.4" r="2.0"/><circle cx="149.3" cy="506.1" r="2.0"/><circle cx="144.5" cy="514.3" r="2.0"/><circle cx="145.5" cy="510.0" r="2.0"/><circle cx="145.9" cy="510.7" r="2.0"/><circle cx="142.0" cy="516.2" r="2.0"/><circle cx="142.0" cy="514.9" r="2.0"/><circle cx="147.5" cy="513.9" r="2.0"/><circle cx="145.5" cy="515.1" r="2.0"/><circle cx="144.7" cy="514.2" r="2.0"/><circle cx="148.2" cy="513.4" r="2.0"/><circle cx="146.4" cy="511.8" r="2.0"/><circle cx="145.6" cy="512.2" r="2.0"/><circle cx="147.4" cy="511.0" r="2.0"/><circle cx="135.2" cy="515.2" r="2.0"/><circle cx="135.5" cy="513.2" r="2.0"/><circle cx="138.4" cy="515.2" r="2.0"/><circle cx="138.6" cy="516.1" r="2.0"/><circle cx="135.0" cy="514.9" r="2.0"/><circle cx="131.3" cy="510.3" r="2.0"/><circle cx="138.7" cy="515.8" r="2.0"/><circle cx="136.0" cy="515.0" r="2.0"/><circle cx="137.1" cy="515.1" r="2.0"/><circle cx="134.8" cy="511.8" r="2.0"/><circle cx="133.6" cy="511.4" r="2.0"/><circle cx="134.9" cy="516.5" r="2.0"/><circle cx="134.2" cy="512.9" r="2.0"/><circle cx="134.3" cy="513.9" r="2.0"/><circle cx="139.5" cy="516.4" r="2.0"/><circle cx="134.4" cy="511.9" r="2.0"/><circle cx="139.0" cy="515.7" r="2.0"/><circle cx="137.2" cy="513.4" r="2.0"/><circle cx="138.8" cy="515.3" r="2.0"/><circle cx="135.5" cy="512.5" r="2.0"/><circle cx="134.8" cy="515.5" r="2.0"/><circle cx="138.4" cy="515.4" r="2.0"/><circle cx="137.9" cy="515.1" r="2.0"/><circle cx="134.4" cy="513.6" r="2.0"/><circle cx="132.8" cy="510.9" r="2.0"/><circle cx="137.4" cy="515.8" r="2.0"/><circle cx="131.5" cy="513.9" r="2.0"/><circle cx="138.4" cy="515.3" r="2.0"/><circle cx="131.6" cy="513.4" r="2.0"/><circle cx="133.2" cy="513.7" r="2.0"/><circle cx="134.4" cy="514.2" r="2.0"/><circle cx="133.3" cy="512.5" r="2.0"/><circle cx="135.7" cy="514.7" r="2.0"/><circle cx="132.8" cy="516.2" r="2.0"/><circle cx="133.6" cy="511.5" r="2.0"/></g>
<g fill="#0000ff"><circle cx="86.1" cy="503.0" r="2.0"/><circle cx="94.1" cy="504.9" r="2.0"/><circle cx="102.3" cy="498.2" r="2.0"/><circle cx="90.7" cy="511.2" r="2.0"/><circle cx="129.7" cy="511.1" r="2.0"/><circle cx="98.0" cy="510.4" r="2.0"/><circle cx="118.6" cy="497.8" r="2.0"/><circle cx="97.6" cy="497.9" r="2.0"/><circle cx="89.1" cy="512.6" r="2.0"/><circle cx="102.8" cy="493.7" r="2.0"/><circle cx="107.8" cy="495.8" r="2.0"/><circle cx="122.0" cy="504.1" r="2.0"/><circle cx="88.6" cy="500.0" r="2.0"/><circle cx="96.3" cy="496.6" r="2.0"/><circle cx="120.3" cy="498.4" r="2.0"/><circle cx="117.5" cy="509.3" r="2.0"/><circle cx="108.1" cy="510.8" r="2.0"/><circle cx="87.7" cy="505.1" r="2.0"/><circle cx="86.2" cy="504.5" r="2.0"/><circle cx="117.3" cy="507.7" r="2.0"/><circle cx="115.5" cy="498.3" r="2.0"/><circle cx="109.4" cy="498.4" r="2.0"/><circle cx="124.8" cy="498.5" r="2.0"/><circle cx="93.1" cy="509.7" r="2.0"/><circle cx="85.0" cy="510.5" r="2.0"/><circle cx="112.0" cy="502.9" r="2.0"/><circle cx="105.8" cy="496.3" r="2.0"/><circle cx="104.8" cy="505.8" r="2.0"/><circle cx="101.0" cy="504.2" r="2.0"/><circle cx="88.2" cy="512.2" r="2.0"/><circle cx="86.3" cy="508.8" r="2.0"/><circle cx="96.6" cy="506.1" r="2.0"/><circle cx="110.1" cy="501.7" r="2.0"/><circle cx="87.3" cy="509.8" r="2.0"/><circle cx="105.0" cy="506.6" r="2.0"/><circle cx="108.0" cy="510.0" r="2.0"/><circle cx="110.4" cy="492.4" r="2.0"/><circle cx="83.2" cy="502.7" r="2.0"/><circle cx="101.7" cy="500.1" r="2.0"/><circle cx="97.7" cy="512.4" r="2.0"/><circle cx="131.0" cy="506.0" r="2.0"/><circle cx="107.9" cy="508.2" r="2.0"/><circle cx="93.8" cy="497.0" r="2.0"/><circle cx="101.5" cy="504.8" r="2.0"/><circle cx="87.0" cy="506.4" r="2.0"/><circle cx="85.4" cy="500.3" r="2.0"/><circle cx="100.8" cy="505.4" r="2.0"/><circle cx="113.1" cy="504.0" r="2.0"/><circle cx="84.8" cy="507.8" r="2.0"/><circle cx="127.5" cy="511.3" r="2.0"/><circle cx="106.5" cy="496.4" r="2.0"/><circle cx="90.2" cy="501.0" r="2.0"/><circle cx="120.6" cy="511.5" r="2.0"/><circle cx="88.7" cy="512.8" r="2.0"/><circle cx="90.6" cy="503.5" r="2.0"/><circle cx="96.9" cy="495.0" r="2.0"/><circle cx="95.8" cy="494.9" r="2.0"/><circle cx="100.1" cy="499.6" r="2.0"/><circle cx="88.0" cy="505.0" r="2.0"/><circle cx="90.8" cy="512.9" r="2.0"/><circle cx="97.4" cy="513.2" r="2.0"/><circle cx="109.8" cy="512.8" r="2.0"/><circle cx="125.4" cy="511.8" r="2.0"/><circle cx="91.2" cy="511.8" r="2.0"/><circle cx="109.8" cy="500.0" r="2.0"/><circle cx="99.0" cy="511.0" r="2.0"/><circle cx="85.4" cy="511.0" r="2.0"/><circle cx="110.6" cy="495.0" r="2.0"/><circle cx="102.4" cy="504.6" r="2.0"/><circle cx="118.2" cy="495.4" r="2.0"/><circle cx="117.4" cy="511.6" r="2.0"/><circle cx="117.0" cy="503.2" r="2.0"/><circle cx="89.2" cy="511.5" r="2.0"/><circle cx="109.7" cy="498.0" r="2.0"/><circle cx="121.5" cy="500.5" r="2.0"/><circle cx="117.8" cy="512.3" r="2.0"/><circle cx="94.4" cy="513.0" r="2.0"/><circle cx="105.1" cy="499.6" r="2.0"/><circle cx="97.2" cy="504.8" r="2.0"/><circle cx="87.6" cy="502.4" r="2.0"/><circle cx="95.5" cy="508.8" r="2.0"/><circle cx="94.9" cy="495.4" r="2.0"/><circle cx="106.4" cy="509.3" r="2.0"/><circle cx="126.5" cy="505.2" r="2.0"/><circle cx="86.0" cy="499.8" r="2.0"/><circle cx="99.5" cy="509.9" r="2.0"/><circle cx="92.8" cy="502.0" r="2.0"/><circle cx="114.6" cy="507.1" r="2.0"/><circle cx="103.9" cy="499.5" r="2.0"/><circle cx="112.4" cy="511.7" r="2.0"/><circle cx="94.9" cy="498.6" r="2.0"/><circle cx="94.3" cy="502.2" r="2.0"/><circle cx="93.7" cy="511.5" r="2.0"/><circle cx="102.2" cy="493.0" r="2.0"/><circle cx="130.9" cy="511.2" r="2.0"/><circle cx="103.1" cy="504.0" r="2.0"/><circle cx="108.4" cy="498.8" r="2.0"/><circle cx="118.8" cy="493.6" r="2.0"/><circle cx="107.5" cy="496.0" r="2.0"/><circle cx="92.0" cy="511.5" r="2.0"/><circle cx="99.5" cy="507.8" r="2.0"/><circle cx="112.3" cy="501.0" r="2.0"/><circle cx="83.1" cy="501.4" r="2.0"/><circle cx="113.4" cy="512.2" r="2.0"/><circle cx="98.3" cy="502.2" r="2.0"/><circle cx="95.1" cy="507.0" r="2.0"/><circle cx="92.5" cy="502.2" r="2.0"/><circle cx="106.2" cy="500.9" r="2.0"/><circle cx="107.1" cy="501.1" r="2.0"/><circle cx="95.3" cy="497.1" r="2.0"/><circle cx="86.2" cy="500.9" r="2.0"/><circle cx="89.3" cy="512.4" r="2.0"/><circle cx="95.2" cy="497.1" r="2.0"/><circle cx="114.0" cy="503.5" r="2.0"/><circle cx="88.1" cy="510.3" r="2.0"/><circle cx="80.7" cy="501.7" r="2.0"/><circle cx="109.8" cy="492.8" r="2.0"/><circle cx="90.1" cy="497.5" r="2.0"/><circle cx="99.9" cy="511.6" r="2.0"/><circle cx="83.1" cy="505.8" r="2.0"/><circle cx="89.2" cy="498.8" r="2.0"/><circle cx="125.1" cy="510.4" r="2.0"/><circle cx="84.9" cy="503.0" r="2.0"/><circle cx="121.6" cy="499.8" r="2.0"/><circle cx="86.5" cy="500.0" r="2.0"/><circle cx="129.1" cy="511.1" r="2.0"/><circle cx="111.6" cy="497.9" r="2.0"/><circle cx="93.8" cy="513.1" r="2.0"/><circle cx="106.4" cy="500.5" r="2.0"/><circle cx="86.8" cy="506.6" r="2.0"/><circle cx="87.5" cy="500.4" r="2.0"/><circle cx="107.7" cy="501.8" r="2.0"/><circle cx="79.0" cy="501.2" r="2.0"/><circle cx="105.3" cy="506.7" r="2.0"/><circle cx="96.7" cy="502.0" r="2.0"/><circle cx="79.1" cy="504.1" r="2.0"/><circle cx="118.2" cy="494.9" r="2.0"/><circle cx="100.2" cy="499.7" r="2.0"/><circle cx="94.2" cy="507.4" r="2.0"/><circle cx="94.1" cy="504.7" r="2.0"/><circle cx="124.4" cy="497.7" r="2.0"/><circle cx="129.8" cy="501.2" r="2.0"/><circle cx="131.7" cy="509.6" r="2.0"/><circle cx="108.6" cy="496.7" r="2.0"/><circle cx="100.2" cy="497.1" r="2.0"/><circle cx="105.8" cy="492.2" r="2.0"/><circle cx="80.5" cy="505.1" r="2.0"/><circle cx="105.3" cy="512.9" r="2.0"/><circle cx="80.4" cy="503.8" r="2.0"/><circle cx="115.1" cy="496.5" r="2.0"/><circle cx="103.1" cy="498.4" r="2.0"/><circle cx="87.0" cy="503.3" r="2.0"/><circle cx="104.8" cy="503.2" r="2.0"/><circle cx="93.3" cy="501.6" r="2.0"/><circle cx="83.6" cy="508.1" r="2.0"/><circle cx="130.5" cy="506.8" r="2.0"/><circle cx="115.8" cy="509.5" r="2.0"/><circle cx="120.3" cy="509.2" r="2.0"/><circle cx="128.9" cy="504.2" r="2.0"/><circle cx="86.1" cy="508.4" r="2.0"/><circle cx="101.7" cy="502.4" r="2.0"/><circle cx="102.7" cy="509.7" r="2.0"/><circle cx="96.5" cy="500.1" r="2.0"/><circle cx="100.6" cy="503.8" r="2.0"/><circle cx="112.2" cy="492.9" r="2.0"/><circle cx="85.5" cy="507.9" r="2.0"/><circle cx="125.4" cy="512.2" r="2.0"/><circle cx="85.2" cy="503.0" r="2.0"/><circle cx="99.3" cy="498.7" r="2.0"/><circle cx="104.9" cy="496.4" r="2.0"/><circle cx="97.5" cy="510.9" r="2.0"/><circle cx="125.1" cy="507.3" r="2.0"/><circle cx="113.7" cy="500.0" r="2.0"/><circle cx="122.4" cy="505.1" r="2.0"/><circle cx="91.9" cy="512.4" r="2.0"/><circle cx="91.0" cy="507.5" r="2.0"/><circle cx="90.3" cy="504.8" r="2.0"/><circle cx="106.5" cy="495.2" r="2.0"/><circle cx="103.1" cy="503.5" r="2.0"/><circle cx="85.9" cy="508.6" r="2.0"/><circle cx="92.2" cy="507.0" r="2.0"/><circle cx="86.9" cy="502.5" r="2.0"/><circle cx="89.8" cy="509.1" r="2.0"/><circle cx="88.2" cy="511.0" r="2.0"/><circle cx="100.0" cy="505.6" r="2.0"/><circle cx="87.6" cy="507.8" r="2.0"/><circle cx="129.2" cy="506.3" r="2.0"/><circle cx="85.9" cy="501.5" r="2.0"/><circle cx="109.1" cy="508.2" r="2.0"/><circle cx="96.7" cy="501.2" r="2.0"/><circle cx="124.2" cy="498.7" r="2.0"/><circle cx="87.2" cy="510.9" r="2.0"/><circle cx="98.0" cy="500.4" r="2.0"/><circle cx="115.5" cy="502.7" r="2.0"/><circle cx="94.5" cy="499.3" r="2.0"/><circle cx="89.5" cy="513.1" r="2.0"/><circle cx="93.1" cy="501.7" r="2.0"/><circle cx="98.3" cy="506.2" r="2.0"/><circle cx="88.9" cy="509.0" r="2.0"/><circle cx="128.0" cy="503.7" r="2.0"/><circle cx="86.7" cy="509.7" r="2.0"/><circle cx="103.8" cy="497.1" r="2.0"/><circle cx="103.6" cy="497.1" r="2.0"/><circle cx="114.7" cy="508.5" r="2.0"/><circle cx="120.4" cy="497.1" r="2.0"/><circle cx="115.9" cy="493.4" r="2.0"/><circle cx="109.8" cy="507.7" r="2.0"/><circle cx="101.9" cy="495.3" r="2.0"/><circle cx="85.4" cy="500.3" r="2.0"/><circle cx="97.6" cy="512.2" r="2.0"/><circle cx="131.5" cy="513.2" r="2.0"/><circle cx="129.2" cy="508.3" r="2.0"/><circle cx="100.6" cy="494.8" r="2.0"/><circle cx="100.4" cy="512.6" r="2.0"/><circle cx="112.9" cy="507.4" r="2.0"/><circle cx="95.3" cy="510.9" r="2.0"/><circle cx="100.7" cy="495.6" r="2.0"/><circle cx="84.6" cy="509.3" r="2.0"/><circle cx="124.4" cy="498.7" r="2.0"/><circle cx="96.7" cy="503.8" r="2.0"/><circle cx="122.2" cy="499.1" r="2.0"/><circle cx="119.8" cy="497.3" r="2.0"/><circle cx="88.0" cy="500.5" r="2.0"/><circle cx="82.7" cy="501.2" r="2.0"/><circle cx="91.9" cy="504.5" r="2.0"/><circle cx="123.0" cy="496.2" r="2.0"/><circle cx="81.2" cy="504.1" r="2.0"/><circle cx="98.8" cy="500.0" r="2.0"/><circle cx="94.1" cy="507.7" r="2.0"/><circle cx="100.7" cy="505.2" r="2.0"/><circle cx="94.9" cy="501.0" r="2.0"/><circle cx="103.1" cy="500.5" r="2.0"/><circle cx="95.5" cy="496.5" r="2.0"/><circle cx="105.2" cy="501.8" r="2.0"/><circle cx="101.9" cy="504.2" r="2.0"/><circle cx="105.8" cy="503.3" r="2.0"/><circle cx="95.4" cy="508.0" r="2.0"/><circle cx="88.0" cy="509.7" r="2.0"/><circle cx="84.9" cy="500.6" r="2.0"/><circle cx="110.6" cy="497.2" r="2.0"/><circle cx="121.7" cy="499.4" r="2.0"/><circle cx="80.6" cy="501.5" r="2.0"/><circle cx="107.3" cy="509.9" r="2.0"/><circle cx="107.7" cy="512.1" r="2.0"/><circle cx="82.2" cy="501.5" r="2.0"/><circle cx="87.3" cy="509.2" r="2.0"/><circle cx="89.7" cy="510.7" r="2.0"/><circle cx="101.8" cy="501.9" r="2.0"/><circle cx="88.7" cy="500.0" r="2.0"/><circle cx="127.1" cy="498.5" r="2.0"/><circle cx="108.0" cy="500.3" r="2.0"/><circle cx="125.9" cy="503.0" r="2.0"/><circle cx="86.0" cy="499.7" r="2.0"/><circle cx="109.7" cy="510.7" r="2.0"/><circle cx="119.9" cy="513.1" r="2.0"/><circle cx="129.7" cy="510.6" r="2.0"/><circle cx="99.7" cy="493.8" r="2.0"/><circle cx="128.0" cy="513.1" r="2.0"/><circle cx="125.3" cy="498.7" r="2.0"/><circle cx="127.4" cy="512.1" r="2.0"/><circle cx="106.5" cy="497.9" r="2.0"/><circle cx="117.8" cy="498.6" r="2.0"/><circle cx="98.7" cy="506.9" r="2.0"/><circle cx="95.2" cy="502.1" r="2.0"/><circle cx="82.7" cy="501.9" r="2.0"/><circle cx="119.7" cy="511.1" r="2.0"/><circle cx="81.8" cy="500.3" r="2.0"/><circle cx="85.8" cy="501.0" r="2.0"/><circle cx="97.8" cy="503.5" r="2.0"/><circle cx="128.2" cy="503.6" r="2.0"/><circle cx="109.8" cy="495.2" r="2.0"/><circle cx="125.0" cy="505.5" r="2.0"/><circle cx="129.8" cy="511.4" r="2.0"/><circle cx="117.2" cy="499.4" r="2.0"/><circle cx="92.6" cy="507.1" r="2.0"/><circle cx="125.3" cy="507.8" r="2.0"/><circle cx="79.7" cy="505.1" r="2.0"/><circle cx="102.4" cy="493.0" r="2.0"/><circle cx="113.3" cy="497.5" r="2.0"/><circle cx="131.0" cy="505.4" r="2.0"/><circle cx="110.5" cy="507.3" r="2.0"/><circle cx="86.6" cy="503.0" r="2.0"/><circle cx="103.9" cy="506.0" r="2.0"/><circle cx="124.1" cy="508.7" r="2.0"/><circle cx="93.2" cy="509.3" r="2.0"/><circle cx="125.4" cy="505.4" r="2.0"/><circle cx="119.9" cy="494.1" r="2.0"/><circle cx="115.6" cy="512.1" r="2.0"/><circle cx="103.7" cy="502.3" r="2.0"/><circle cx="97.4" cy="499.7" r="2.0"/><circle cx="92.2" cy="502.1" r="2.0"/><circle cx="130.0" cy="504.2" r="2.0"/><circle cx="90.1" cy="508.9" r="2.0"/><circle cx="85.5" cy="510.8" r="2.0"/><circle cx="97.9" cy="497.1" r="2.0"/><circle cx="132.3" cy="505.1" r="2.0"/><circle cx="106.2" cy="497.6" r="2.0"/><circle cx="90.9" cy="503.4" r="2.0"/><circle cx="87.6" cy="502.0" r="2.0"/><circle cx="101.7" cy="511.5" r="2.0"/><circle cx="87.2" cy="503.1" r="2.0"/><circle cx="85.2" cy="509.3" r="2.0"/><circle cx="96.5" cy="505.7" r="2.0"/><circle cx="81.5" cy="503.6" r="2.0"/><circle cx="91.5" cy="497.6" r="2.0"/><circle cx="108.0" cy="493.8" r="2.0"/><circle cx="99.5" cy="503.2" r="2.0"/><circle cx="112.6" cy="495.9" r="2.0"/><circle cx="105.8" cy="500.5" r="2.0"/><circle cx="92.0" cy="502.3" r="2.0"/><circle cx="94.9" cy="506.5" r="2.0"/><circle cx="98.4" cy="508.6" r="2.0"/><circle cx="88.0" cy="507.7" r="2.0"/><circle cx="88.6" cy="508.9" r="2.0"/><circle cx="119.1" cy="498.2" r="2.0"/><circle cx="109.2" cy="505.4" r="2.0"/><circle cx="124.1" cy="500.0" r="2.0"/><circle cx="111.1" cy="500.9" r="2.0"/><circle cx="96.7" cy="495.3" r="2.0"/><circle cx="118.6" cy="496.5" r="2.0"/><circle cx="113.5" cy="493.8" r="2.0"/><circle cx="120.6" cy="502.8" r="2.0"/><circle cx="113.2" cy="502.7" r="2.0"/><circle cx="103.2" cy="500.3" r="2.0"/><circle cx="110.7" cy="494.4" r="2.0"/><circle cx="115.4" cy="499.2" r="2.0"/><circle cx="80.3" cy="503.0" r="2.0"/><circle cx="112.8" cy="495.3" r="2.0"/><circle cx="93.3" cy="506.9" r="2.0"/><circle cx="106.8" cy="510.2" r="2.0"/><circle cx="128.0" cy="512.9" r="2.0"/><circle cx="94.7" cy="502.5" r="2.0"/><circle cx="97.2" cy="508.9" r="2.0"/><circle cx="80.9" cy="501.3" r="2.0"/><circle cx="84.3" cy="506.6" r="2.0"/><circle cx="82.7" cy="504.4" r="2.0"/><circle cx="128.6" cy="499.6" r="2.0"/><circle cx="108.5" cy="500.7" r="2.0"/><circle cx="92.2" cy="506.0" r="2.0"/><circle cx="91.9" cy="501.4" r="2.0"/><circle cx="113.0" cy="511.1" r="2.0"/><circle cx="110.0" cy="512.2" r="2.0"/><circle cx="98.4" cy="499.9" r="2.0"/><circle cx="88.3" cy="510.5" r="2.0"/><circle cx="91.8" cy="504.7" r="2.0"/><circle cx="86.8" cy="511.4" r="2.0"/><circle cx="117.8" cy="509.6" r="2.0"/><circle cx="84.2" cy="504.6" r="2.0"/><circle cx="117.4" cy="501.2" r="2.0"/><circle cx="107.2" cy="493.8" r="2.0"/><circle cx="85.3" cy="500.4" r="2.0"/><circle cx="116.1" cy="505.8" r="2.0"/><circle cx="92.3" cy="512.6" r="2.0"/><circle cx="109.3" cy="500.3" r="2.0"/><circle cx="105.6" cy="505.5" r="2.0"/><circle cx="119.1" cy="512.3" r="2.0"/><circle cx="103.6" cy="509.1" r="2.0"/><circle cx="118.1" cy="504.3" r="2.0"/><circle cx="110.6" cy="500.7" r="2.0"/><circle cx="111.7" cy="513.0" r="2.0"/><circle cx="101.4" cy="513.3" r="2.0"/><circle cx="83.8" cy="505.9" r="2.0"/><circle cx="116.6" cy="512.8" r="2.0"/><circle cx="83.4" cy="508.4" r="2.0"/><circle cx="104.0" cy="512.6" r="2.0"/><circle cx="85.7" cy="501.1" r="2.0"/><circle cx="90.1" cy="497.2" r="2.0"/><circle cx="88.5" cy="504.4" r="2.0"/><circle cx="102.6" cy="501.6" r="2.0"/><circle cx="125.6" cy="511.4" r="2.0"/><circle cx="94.3" cy="511.5" r="2.0"/><circle cx="101.7" cy="500.1" r="2.0"/><circle cx="93.9" cy="498.5" r="2.0"/><circle cx="95.3" cy="501.5" r="2.0"/><circle cx="96.2" cy="501.2" r="2.0"/><circle cx="112.6" cy="511.6" r="2.0"/><circle cx="81.1" cy="504.1" r="2.0"/><circle cx="89.8" cy="510.1" r="2.0"/><circle cx="87.9" cy="512.0" r="2.0"/><circle cx="106.1" cy="499.1" r="2.0"/><circle cx="115.9" cy="513.0" r="2.0"/><circle cx="109.9" cy="494.0" r="2.0"/><circle cx="111.7" cy="503.2" r="2.0"/><circle cx="85.3" cy="508.9" r="2.0"/><circle cx="125.1" cy="503.6" r="2.0"/><circle cx="115.1" cy="495.1" r="2.0"/><circle cx="114.7" cy="505.0" r="2.0"/><circle cx="79.1" cy="503.7" r="2.0"/><circle cx="89.1" cy="507.3" r="2.0"/><circle cx="94.2" cy="511.6" r="2.0"/><circle cx="92.9" cy="496.7" r="2.0"/><circle cx="116.8" cy="496.9" r="2.0"/><circle cx="101.1" cy="502.9" r="2.0"/><circle cx="108.8" cy="510.5" r="2.0"/><circle cx="101.4" cy="499.2" r="2.0"/><circle cx="118.6" cy="494.9" r="2.0"/><circle cx="120.3" cy="505.0" r="2.0"/><circle cx="116.0" cy="495.4" r="2.0"/><circle cx="121.4" cy="512.5" r="2.0"/><circle cx="120.7" cy="512.7" r="2.0"/><circle cx="94.7" cy="507.3" r="2.0"/><circle cx="78.4" cy="502.7" r="2.0"/><circle cx="119.5" cy="498.1" r="2.0"/><circle cx="118.3" cy="496.7" r="2.0"/><circle cx="110.8" cy="492.1" r="2.0"/><circle cx="128.0" cy="512.0" r="2.0"/><circle cx="91.2" cy="506.9" r="2.0"/><circle cx="109.1" cy="504.3" r="2.0"/><circle cx="83.2" cy="502.0" r="2.0"/><circle cx="81.6" cy="505.5" r="2.0"/><circle cx="93.7" cy="507.0" r="2.0"/><circle cx="109.2" cy="512.5" r="2.0"/><circle cx="97.4" cy="497.8" r="2.0"/><circle cx="101.7" cy="505.5" r="2.0"/><circle cx="117.9" cy="493.2" r="2.0"/><circle cx="85.5" cy="500.9" r="2.0"/><circle cx="109.6" cy="499.7" r="2.0"/><circle cx="94.7" cy="509.0" r="2.0"/><circle cx="82.6" cy="505.8" r="2.0"/><circle cx="103.7" cy="513.1" r="2.0"/><circle cx="111.7" cy="509.3" r="2.0"/><circle cx="112.5" cy="508.6" r="2.0"/><circle cx="94.7" cy="502.8" r="2.0"/><circle cx="103.2" cy="505.6" r="2.0"/><circle cx="95.8" cy="510.4" r="2.0"/><circle cx="101.6" cy="503.2" r="2.0"/><circle cx="99.5" cy="507.0" r="2.0"/><circle cx="90.3" cy="502.5" r="2.0"/><circle cx="123.0" cy="505.8" r="2.0"/><circle cx="121.4" cy="494.7" r="2.0"/><circle cx="100.9" cy="511.3" r="2.0"/><circle cx="98.0" cy="495.9" r="2.0"/><circle cx="103.0" cy="507.1" r="2.0"/><circle cx="126.3" cy="506.5" r="2.0"/><circle cx="91.1" cy="507.7" r="2.0"/><circle cx="88.6" cy="500.4" r="2.0"/><circle cx="88.9" cy="512.6" r="2.0"/><circle cx="105.0" cy="498.5" r="2.0"/><circle cx="114.2" cy="507.1" r="2.0"/><circle cx="100.3" cy="495.9" r="2.0"/><circle cx="114.4" cy="496.5" r="2.0"/><circle cx="105.9" cy="493.9" r="2.0"/><circle cx="113.4" cy="500.8" r="2.0"/><circle cx="95.2" cy="511.9" r="2.0"/><circle cx="114.7" cy="505.8" r="2.0"/><circle cx="112.4" cy="499.3" r="2.0"/><circle cx="77.3" cy="502.4" r="2.0"/><circle cx="91.4" cy="508.0" r="2.0"/><circle cx="109.6" cy="495.4" r="2.0"/><circle cx="87.1" cy="510.1" r="2.0"/><circle cx="86.1" cy="506.1" r="2.0"/><circle cx="85.9" cy="509.6" r="2.0"/><circle cx="92.7" cy="499.7" r="2.0"/><circle cx="95.2" cy="498.7" r="2.0"/><circle cx="82.6" cy="504.2" r="2.0"/><circle cx="84.5" cy="502.1" r="2.0"/><circle cx="112.5" cy="497.2" r="2.0"/><circle cx="111.6" cy="494.7" r="2.0"/><circle cx="93.0" cy="509.9" r="2.0"/><circle cx="85.3" cy="508.4" r="2.0"/><circle cx="85.3" cy="506.9" r="2.0"/><circle cx="88.0" cy="513.3" r="2.0"/><circle cx="88.7" cy="504.3" r="2.0"/><circle cx="112.0" cy="495.5" r="2.0"/><circle cx="92.5" cy="506.2" r="2.0"/><circle cx="94.2" cy="509.0" r="2.0"/><circle cx="108.3" cy="494.1" r="2.0"/><circle cx="111.9" cy="504.7" r="2.0"/><circle cx="90.9" cy="507.8" r="2.0"/><circle cx="80.8" cy="504.1" r="2.0"/><circle cx="117.0" cy="494.0" r="2.0"/><circle cx="85.0" cy="501.6" r="2.0"/><circle cx="129.0" cy="505.6" r="2.0"/><circle cx="100.2" cy="504.0" r="2.0"/><circle cx="98.2" cy="510.4" r="2.0"/><circle cx="89.7" cy="501.7" r="2.0"/><circle cx="93.1" cy="503.6" r="2.0"/><circle cx="119.0" cy="497.3" r="2.0"/><circle cx="128.6" cy="508.2" r="2.0"/><circle cx="109.4" cy="497.4" r="2.0"/><circle cx="125.7" cy="502.1" r="2.0"/><circle cx="117.3" cy="509.9" r="2.0"/><circle cx="89.1" cy="505.3" r="2.0"/><circle cx="90.0" cy="499.5" r="2.0"/><circle cx="98.4" cy="497.3" r="2.0"/><circle cx="96.3" cy="512.7" r="2.0"/><circle cx="85.9" cy="506.0" r="2.0"/><circle cx="99.6" cy="503.7" r="2.0"/><circle cx="91.8" cy="504.4" r="2.0"/><circle cx="120.5" cy="494.8" r="2.0"/><circle cx="111.7" cy="509.3" r="2.0"/><circle cx="98.0" cy="496.5" r="2.0"/><circle cx="118.2" cy="495.1" r="2.0"/><circle cx="106.0" cy="498.8" r="2.0"/><circle cx="117.9" cy="508.4" r="2.0"/><circle cx="127.4" cy="512.7" r="2.0"/><circle cx="107.4" cy="513.0" r="2.0"/><circle cx="105.7" cy="493.9" r="2.0"/><circle cx="95.5" cy="507.2" r="2.0"/><circle cx="93.3" cy="512.4" r="2.0"/><circle cx="103.3" cy="496.2" r="2.0"/><circle cx="126.8" cy="511.3" r="2.0"/><circle cx="99.3" cy="510.6" r="2.0"/><circle cx="87.9" cy="505.2" r="2.0"/><circle cx="84.0" cy="499.5" r="2.0"/><circle cx="85.2" cy="499.4" r="2.0"/><circle cx="123.8" cy="510.1" r="2.0"/><circle cx="99.4" cy="510.3" r="2.0"/><circle cx="102.7" cy="503.1" r="2.0"/><circle cx="96.1" cy="502.5" r="2.0"/><circle cx="117.9" cy="507.1" r="2.0"/><circle cx="100.7" cy="507.2" r="2.0"/><circle cx="109.1" cy="498.1" r="2.0"/><circle cx="111.1" cy="495.6" r="2.0"/><circle cx="129.8" cy="510.5" r="2.0"/><circle cx="91.8" cy="500.0" r="2.0"/><circle cx="88.7" cy="498.6" r="2.0"/><circle cx="102.1" cy="500.1" r="2.0"/><circle cx="108.0" cy="510.9" r="2.0"/><circle cx="90.8" cy="511.4" r="2.0"/><circle cx="103.8" cy="500.0" r="2.0"/><circle cx="85.8" cy="505.6" r="2.0"/><circle cx="130.6" cy="509.5" r="2.0"/><circle cx="98.8" cy="509.8" r="2.0"/><circle cx="108.0" cy="506.7" r="2.0"/><circle cx="127.5" cy="500.9" r="2.0"/><circle cx="117.5" cy="502.4" r="2.0"/><circle cx="88.7" cy="501.0" r="2.0"/><circle cx="82.7" cy="504.0" r="2.0"/><circle cx="107.8" cy="500.1" r="2.0"/><circle cx="95.2" cy="495.0" r="2.0"/><circle cx="111.0" cy="504.8" r="2.0"/><circle cx="99.4" cy="507.8" r="2.0"/><circle cx="81.8" cy="500.5" r="2.0"/><circle cx="84.9" cy="508.7" r="2.0"/><circle cx="126.4" cy="506.9" r="2.0"/><circle cx="125.0" cy="506.5" r="2.0"/><circle cx="110.8" cy="493.4" r="2.0"/><circle cx="116.6" cy="496.0" r="2.0"/><circle cx="105.3" cy="502.9" r="2.0"/><circle cx="86.2" cy="510.0" r="2.0"/><circle cx="118.5" cy="505.1" r="2.0"/><circle cx="90.6" cy="512.4" r="2.0"/><circle cx="99.1" cy="507.6" r="2.0"/><circle cx="92.6" cy="496.0" r="2.0"/><circle cx="89.9" cy="511.9" r="2.0"/><circle cx="121.5" cy="511.8" r="2.0"/><circle cx="106.7" cy="511.7" r="2.0"/><circle cx="87.5" cy="499.4" r="2.0"/><circle cx="96.8" cy="508.7" r="2.0"/><circle cx="108.9" cy="498.3" r="2.0"/><circle cx="125.0" cy="497.1" r="2.0"/><circle cx="112.2" cy="509.9" r="2.0"/><circle cx="96.9" cy="496.3" r="2.0"/><circle cx="97.1" cy="509.9" r="2.0"/><circle cx="123.8" cy="503.3" r="2.0"/><circle cx="107.6" cy="497.4" r="2.0"/><circle cx="92.0" cy="507.5" r="2.0"/><circle cx="96.9" cy="497.0" r="2.0"/><circle cx="88.3" cy="511.1" r="2.0"/><circle cx="131.8" cy="502.3" r="2.0"/><circle cx="111.9" cy="489.2" r="2.0"/><circle cx="128.9" cy="498.0" r="2.0"/><circle cx="97.4" cy="492.1" r="2.0"/><circle cx="118.7" cy="490.5" r="2.0"/><circle cx="116.1" cy="490.6" r="2.0"/><circle cx="110.5" cy="494.3" r="2.0"/><circle cx="98.7" cy="483.2" r="2.0"/><circle cx="86.6" cy="494.2" r="2.0"/><circle cx="92.1" cy="494.2" r="2.0"/><circle cx="115.7" cy="493.7" r="2.0"/><circle cx="96.3" cy="492.1" r="2.0"/><circle cx="85.3" cy="495.1" r="2.0"/><circle cx="88.7" cy="494.9" r="2.0"/><circle cx="98.6" cy="482.5" r="2.0"/><circle cx="119.1" cy="491.6" r="2.0"/><circle cx="87.1" cy="500.3" r="2.0"/><circle cx="80.4" cy="497.3" r="2.0"/><circle cx="125.3" cy="496.5" r="2.0"/><circle cx="87.0" cy="496.7" r="2.0"/><circle cx="88.1" cy="498.3" r="2.0"/><circle cx="97.5" cy="484.0" r="2.0"/><circle cx="116.3" cy="491.8" r="2.0"/><circle cx="85.2" cy="496.9" r="2.0"/><circle cx="118.7" cy="490.5" r="2.0"/><circle cx="97.7" cy="486.4" r="2.0"/><circle cx="98.7" cy="493.0" r="2.0"/><circle cx="109.1" cy="493.8" r="2.0"/><circle cx="80.6" cy="501.8" r="2.0"/><circle cx="98.8" cy="495.5" r="2.0"/><circle cx="92.9" cy="489.1" r="2.0"/><circle cx="112.8" cy="494.5" r="2.0"/><circle cx="118.1" cy="491.5" r="2.0"/><circle cx="122.7" cy="492.4" r="2.0"/><circle cx="87.4" cy="495.7" r="2.0"/><circle cx="106.9" cy="484.5" r="2.0"/><circle cx="105.3" cy="485.0" r="2.0"/><circle cx="78.6" cy="499.0" r="2.0"/><circle cx="87.4" cy="497.9" r="2.0"/><circle cx="92.6" cy="493.9" r="2.0"/><circle cx="121.9" cy="496.0" r="2.0"/><circle cx="105.3" cy="487.7" r="2.0"/><circle cx="112.4" cy="489.0" r="2.0"/><circle cx="131.2" cy="500.4" r="2.0"/><circle cx="95.8" cy="492.1" r="2.0"/><circle cx="82.2" cy="498.2" r="2.0"/><circle cx="103.7" cy="481.7" r="2.0"/><circle cx="80.1" cy="503.4" r="2.0"/><circle cx="126.5" cy="499.0" r="2.0"/><circle cx="127.2" cy="500.0" r="2.0"/><circle cx="89.4" cy="496.7" r="2.0"/><circle cx="114.6" cy="485.6" r="2.0"/><circle cx="103.7" cy="485.4" r="2.0"/><circle cx="95.8" cy="489.8" r="2.0"/><circle cx="99.7" cy="495.1" r="2.0"/><circle cx="105.0" cy="485.8" r="2.0"/><circle cx="84.0" cy="499.0" r="2.0"/><circle cx="93.8" cy="493.0" r="2.0"/><circle cx="86.9" cy="496.6" r="2.0"/><circle cx="87.6" cy="498.3" r="2.0"/><circle cx="82.6" cy="496.9" r="2.0"/><circle cx="95.9" cy="490.4" r="2.0"/><circle cx="103.0" cy="489.4" r="2.0"/><circle cx="106.1" cy="483.1" r="2.0"/><circle cx="108.0" cy="490.0" r="2.0"/><circle cx="121.5" cy="496.7" r="2.0"/><circle cx="99.5" cy="483.8" r="2.0"/><circle cx="130.7" cy="501.9" r="2.0"/><circle cx="107.0" cy="491.2" r="2.0"/><circle cx="82.0" cy="502.0" r="2.0"/><circle cx="107.6" cy="483.1" r="2.0"/><circle cx="90.5" cy="498.3" r="2.0"/><circle cx="94.1" cy="486.3" r="2.0"/><circle cx="104.1" cy="485.6" r="2.0"/><circle cx="120.3" cy="496.7" r="2.0"/><circle cx="114.9" cy="493.5" r="2.0"/><circle cx="120.7" cy="494.0" r="2.0"/><circle cx="91.9" cy="489.3" r="2.0"/><circle cx="88.2" cy="499.8" r="2.0"/><circle cx="103.2" cy="495.1" r="2.0"/><circle cx="121.8" cy="490.8" r="2.0"/><circle cx="76.7" cy="500.1" r="2.0"/><circle cx="95.1" cy="497.9" r="2.0"/><circle cx="116.6" cy="488.2" r="2.0"/><circle cx="109.3" cy="491.5" r="2.0"/><circle cx="113.9" cy="491.5" r="2.0"/><circle cx="125.1" cy="495.7" r="2.0"/><circle cx="87.0" cy="500.2" r="2.0"/><circle cx="105.8" cy="493.9" r="2.0"/><circle cx="83.4" cy="498.5" r="2.0"/><circle cx="76.4" cy="500.2" r="2.0"/><circle cx="130.9" cy="500.2" r="2.0"/><circle cx="79.7" cy="502.8" r="2.0"/><circle cx="98.7" cy="482.6" r="2.0"/><circle cx="119.9" cy="491.3" r="2.0"/><circle cx="101.9" cy="495.7" r="2.0"/><circle cx="86.5" cy="494.6" r="2.0"/><circle cx="88.7" cy="499.8" r="2.0"/><circle cx="116.7" cy="488.4" r="2.0"/><circle cx="109.2" cy="484.2" r="2.0"/><circle cx="58.2" cy="433.2" r="2.0"/><circle cx="88.2" cy="438.7" r="2.0"/><circle cx="98.6" cy="441.3" r="2.0"/><circle cx="115.6" cy="464.2" r="2.0"/><circle cx="49.7" cy="474.2" r="2.0"/><circle cx="72.2" cy="475.4" r="2.0"/><circle cx="83.2" cy="482.6" r="2.0"/><circle cx="88.2" cy="479.8" r="2.0"/><circle cx="88.5" cy="482.5" r="2.0"/><circle cx="101.8" cy="479.8" r="2.0"/><circle cx="105.3" cy="480.3" r="2.0"/><circle cx="66.7" cy="489.0" r="2.0"/><circle cx="70.2" cy="494.8" r="2.0"/><circle cx="61.0" cy="499.4" r="2.0"/><circle cx="51.4" cy="505.8" r="2.0"/><circle cx="58.7" cy="507.0" r="2.0"/><circle cx="63.7" cy="505.5" r="2.0"/><circle cx="70.2" cy="505.2" r="2.0"/><circle cx="74.8" cy="509.3" r="2.0"/><circle cx="78.6" cy="513.1" r="2.0"/><circle cx="83.6" cy="513.1" r="2.0"/><circle cx="60.0" cy="499.0" r="2.0"/><circle cx="63.4" cy="502.0" r="2.0"/><circle cx="69.2" cy="506.7" r="2.0"/><circle cx="73.8" cy="509.0" r="2.0"/><circle cx="77.2" cy="512.4" r="2.0"/><circle cx="83.0" cy="513.0" r="2.0"/><circle cx="69.7" cy="504.4" r="2.0"/><circle cx="67.5" cy="497.0" r="2.0"/><circle cx="80.0" cy="490.0" r="2.0"/><circle cx="85.0" cy="493.0" r="2.0"/></g>
<g fill="#ff0000"><circle cx="160.6" cy="497.6" r="2.0"/><circle cx="161.7" cy="492.2" r="2.0"/><circle cx="172.4" cy="511.0" r="2.0"/><circle cx="156.8" cy="495.9" r="2.0"/><circle cx="169.2" cy="506.8" r="2.0"/><circle cx="166.0" cy="496.0" r="2.0"/><circle cx="184.8" cy="512.7" r="2.0"/><circle cx="177.7" cy="491.3" r="2.0"/><circle cx="155.5" cy="513.1" r="2.0"/><circle cx="154.9" cy="512.2" r="2.0"/><circle cx="162.7" cy="489.0" r="2.0"/><circle cx="157.3" cy="507.4" r="2.0"/><circle cx="167.3" cy="489.1" r="2.0"/><circle cx="150.5" cy="505.8" r="2.0"/><circle cx="177.8" cy="504.9" r="2.0"/><circle cx="164.2" cy="506.3" r="2.0"/><circle cx="165.9" cy="509.4" r="2.0"/><circle cx="155.6" cy="495.4" r="2.0"/><circle cx="176.7" cy="512.2" r="2.0"/><circle cx="157.1" cy="499.7" r="2.0"/><circle cx="162.9" cy="512.1" r="2.0"/><circle cx="177.0" cy="490.3" r="2.0"/><circle cx="158.2" cy="512.2" r="2.0"/><circle cx="183.6" cy="503.9" r="2.0"/><circle cx="163.7" cy="503.2" r="2.0"/><circle cx="161.9" cy="511.9" r="2.0"/><circle cx="156.1" cy="501.6" r="2.0"/><circle cx="182.6" cy="509.1" r="2.0"/><circle cx="151.0" cy="509.1" r="2.0"/><circle cx="174.3" cy="500.9" r="2.0"/><circle cx="158.3" cy="496.6" r="2.0"/><circle cx="152.9" cy="494.8" r="2.0"/><circle cx="164.2" cy="511.4" r="2.0"/><circle cx="162.8" cy="496.4" r="2.0"/><circle cx="184.7" cy="505.8" r="2.0"/><circle cx="159.3" cy="489.5" r="2.0"/><circle cx="161.5" cy="495.9" r="2.0"/><circle cx="159.6" cy="504.9" r="2.0"/><circle cx="181.9" cy="499.4" r="2.0"/><circle cx="156.8" cy="493.6" r="2.0"/><circle cx="167.9" cy="490.7" r="2.0"/><circle cx="182.0" cy="496.1" r="2.0"/><circle cx="158.6" cy="489.8" r="2.0"/><circle cx="178.9" cy="506.1" r="2.0"/><circle cx="156.0" cy="492.6" r="2.0"/><circle cx="180.0" cy="501.2" r="2.0"/><circle cx="153.2" cy="511.6" r="2.0"/><circle cx="186.5" cy="502.6" r="2.0"/><circle cx="157.7" cy="494.9" r="2.0"/><circle cx="159.5" cy="499.7" r="2.0"/><circle cx="167.2" cy="494.4" r="2.0"/><circle cx="182.1" cy="509.3" r="2.0"/><circle cx="157.7" cy="505.8" r="2.0"/><circle cx="175.3" cy="492.2" r="2.0"/><circle cx="170.0" cy="503.6" r="2.0"/><circle cx="175.5" cy="511.8" r="2.0"/><circle cx="170.0" cy="507.6" r="2.0"/><circle cx="176.6" cy="505.1" r="2.0"/><circle cx="157.9" cy="504.5" r="2.0"/><circle cx="163.3" cy="507.0" r="2.0"/><circle cx="178.8" cy="501.3" r="2.0"/><circle cx="162.0" cy="511.6" r="2.0"/><circle cx="151.2" cy="498.3" r="2.0"/><circle cx="155.9" cy="500.4" r="2.0"/><circle cx="171.8" cy="507.3" r="2.0"/><circle cx="160.4" cy="498.5" r="2.0"/><circle cx="155.1" cy="506.4" r="2.0"/><circle cx="150.2" cy="509.7" r="2.0"/><circle cx="186.0" cy="509.1" r="2.0"/><circle cx="153.9" cy="512.9" r="2.0"/><circle cx="154.9" cy="508.9" r="2.0"/><circle cx="157.4" cy="506.9" r="2.0"/><circle cx="155.2" cy="498.0" r="2.0"/><circle cx="174.1" cy="495.6" r="2.0"/><circle cx="186.2" cy="499.8" r="2.0"/><circle cx="150.5" cy="503.2" r="2.0"/><circle cx="167.4" cy="495.4" r="2.0"/><circle cx="167.0" cy="490.9" r="2.0"/><circle cx="169.3" cy="508.1" r="2.0"/><circle cx="154.0" cy="506.9" r="2.0"/><circle cx="154.7" cy="505.3" r="2.0"/><circle cx="159.1" cy="495.0" r="2.0"/><circle cx="184.3" cy="506.8" r="2.0"/><circle cx="171.1" cy="504.6" r="2.0"/><circle cx="173.3" cy="491.9" r="2.0"/><circle cx="165.0" cy="491.1" r="2.0"/><circle cx="167.1" cy="511.2" r="2.0"/><circle cx="152.4" cy="510.6" r="2.0"/><circle cx="171.7" cy="508.1" r="2.0"/><circle cx="151.3" cy="497.7" r="2.0"/><circle cx="178.5" cy="499.6" r="2.0"/><circle cx="180.8" cy="513.4" r="2.0"/><circle cx="150.9" cy="499.1" r="2.0"/><circle cx="164.0" cy="489.0" r="2.0"/><circle cx="163.0" cy="503.2" r="2.0"/><circle cx="160.4" cy="507.6" r="2.0"/><circle cx="175.9" cy="509.1" r="2.0"/><circle cx="163.4" cy="502.9" r="2.0"/><circle cx="166.2" cy="502.4" r="2.0"/><circle cx="170.8" cy="495.8" r="2.0"/><circle cx="188.2" cy="505.8" r="2.0"/><circle cx="150.5" cy="504.4" r="2.0"/><circle cx="172.1" cy="496.4" r="2.0"/><circle cx="178.4" cy="491.6" r="2.0"/><circle cx="170.3" cy="493.5" r="2.0"/><circle cx="167.9" cy="502.4" r="2.0"/><circle cx="160.2" cy="489.0" r="2.0"/><circle cx="163.9" cy="493.8" r="2.0"/><circle cx="171.5" cy="488.6" r="2.0"/><circle cx="160.4" cy="491.2" r="2.0"/><circle cx="161.5" cy="490.3" r="2.0"/><circle cx="171.7" cy="507.9" r="2.0"/><circle cx="158.3" cy="507.8" r="2.0"/><circle cx="180.6" cy="492.7" r="2.0"/><circle cx="153.8" cy="493.0" r="2.0"/><circle cx="185.7" cy="507.9" r="2.0"/><circle cx="166.3" cy="495.3" r="2.0"/><circle cx="182.8" cy="512.9" r="2.0"/><circle cx="163.0" cy="488.4" r="2.0"/><circle cx="175.1" cy="491.0" r="2.0"/><circle cx="169.4" cy="499.6" r="2.0"/><circle cx="157.4" cy="500.5" r="2.0"/><circle cx="171.6" cy="495.9" r="2.0"/><circle cx="165.8" cy="487.7" r="2.0"/><circle cx="155.7" cy="493.4" r="2.0"/><circle cx="173.3" cy="500.6" r="2.0"/><circle cx="161.6" cy="511.4" r="2.0"/><circle cx="177.4" cy="499.3" r="2.0"/><circle cx="174.2" cy="493.0" r="2.0"/><circle cx="183.9" cy="502.6" r="2.0"/><circle cx="168.3" cy="508.9" r="2.0"/><circle cx="157.3" cy="504.2" r="2.0"/><circle cx="189.0" cy="504.3" r="2.0"/><circle cx="172.3" cy="498.6" r="2.0"/><circle cx="166.5" cy="511.8" r="2.0"/><circle cx="154.2" cy="499.5" r="2.0"/><circle cx="161.6" cy="491.9" r="2.0"/><circle cx="169.7" cy="493.6" r="2.0"/><circle cx="169.1" cy="497.2" r="2.0"/><circle cx="174.0" cy="509.7" r="2.0"/><circle cx="169.0" cy="500.8" r="2.0"/><circle cx="150.4" cy="505.6" r="2.0"/><circle cx="174.3" cy="513.0" r="2.0"/><circle cx="162.9" cy="507.7" r="2.0"/><circle cx="177.3" cy="498.0" r="2.0"/><circle cx="171.6" cy="509.8" r="2.0"/><circle cx="156.2" cy="499.5" r="2.0"/><circle cx="155.3" cy="497.6" r="2.0"/><circle cx="163.8" cy="503.2" r="2.0"/><circle cx="154.6" cy="506.8" r="2.0"/><circle cx="169.6" cy="491.4" r="2.0"/><circle cx="161.0" cy="490.2" r="2.0"/><circle cx="151.9" cy="507.7" r="2.0"/><circle cx="167.4" cy="489.0" r="2.0"/><circle cx="179.1" cy="512.1" r="2.0"/><circle cx="167.1" cy="488.1" r="2.0"/><circle cx="152.4" cy="500.2" r="2.0"/><circle cx="154.5" cy="508.3" r="2.0"/><circle cx="176.8" cy="499.2" r="2.0"/><circle cx="164.7" cy="508.5" r="2.0"/><circle cx="166.2" cy="512.3" r="2.0"/><circle cx="163.7" cy="513.1" r="2.0"/><circle cx="167.7" cy="487.6" r="2.0"/><circle cx="183.1" cy="513.4" r="2.0"/><circle cx="168.8" cy="490.0" r="2.0"/><circle cx="157.8" cy="489.8" r="2.0"/><circle cx="153.6" cy="508.4" r="2.0"/><circle cx="153.6" cy="506.8" r="2.0"/><circle cx="167.4" cy="506.3" r="2.0"/><circle cx="167.3" cy="491.8" r="2.0"/><circle cx="151.2" cy="508.1" r="2.0"/><circle cx="172.9" cy="512.6" r="2.0"/><circle cx="159.3" cy="508.4" r="2.0"/><circle cx="172.6" cy="497.8" r="2.0"/><circle cx="175.8" cy="492.8" r="2.0"/><circle cx="174.5" cy="511.1" r="2.0"/><circle cx="169.9" cy="500.6" r="2.0"/><circle cx="171.7" cy="488.9" r="2.0"/><circle cx="150.6" cy="509.7" r="2.0"/><circle cx="168.4" cy="506.8" r="2.0"/><circle cx="170.0" cy="492.1" r="2.0"/><circle cx="169.3" cy="490.7" r="2.0"/><circle cx="184.1" cy="497.9" r="2.0"/><circle cx="178.2" cy="498.4" r="2.0"/><circle cx="167.7" cy="490.3" r="2.0"/><circle cx="179.1" cy="502.9" r="2.0"/><circle cx="164.1" cy="513.5" r="2.0"/><circle cx="186.9" cy="502.2" r="2.0"/><circle cx="184.7" cy="513.5" r="2.0"/><circle cx="150.2" cy="508.3" r="2.0"/><circle cx="162.1" cy="503.1" r="2.0"/><circle cx="168.1" cy="512.2" r="2.0"/><circle cx="170.4" cy="487.8" r="2.0"/><circle cx="155.2" cy="511.1" r="2.0"/><circle cx="162.8" cy="508.1" r="2.0"/><circle cx="153.4" cy="503.3" r="2.0"/><circle cx="168.7" cy="503.0" r="2.0"/><circle cx="175.5" cy="490.1" r="2.0"/><circle cx="160.0" cy="505.9" r="2.0"/><circle cx="165.9" cy="504.3" r="2.0"/><circle cx="174.5" cy="498.3" r="2.0"/><circle cx="159.1" cy="490.2" r="2.0"/><circle cx="153.2" cy="507.4" r="2.0"/><circle cx="184.1" cy="502.2" r="2.0"/><circle cx="150.9" cy="502.9" r="2.0"/><circle cx="158.9" cy="504.0" r="2.0"/><circle cx="188.6" cy="503.7" r="2.0"/><circle cx="160.3" cy="494.1" r="2.0"/><circle cx="155.5" cy="499.6" r="2.0"/><circle cx="174.8" cy="513.0" r="2.0"/><circle cx="159.4" cy="502.6" r="2.0"/><circle cx="179.1" cy="492.5" r="2.0"/><circle cx="183.5" cy="508.9" r="2.0"/><circle cx="188.6" cy="505.1" r="2.0"/><circle cx="155.6" cy="501.1" r="2.0"/><circle cx="164.7" cy="491.0" r="2.0"/><circle cx="175.5" cy="496.1" r="2.0"/><circle cx="156.7" cy="499.0" r="2.0"/><circle cx="153.0" cy="507.3" r="2.0"/><circle cx="165.2" cy="510.3" r="2.0"/><circle cx="154.1" cy="510.1" r="2.0"/><circle cx="170.9" cy="499.2" r="2.0"/><circle cx="174.0" cy="493.5" r="2.0"/><circle cx="171.8" cy="499.8" r="2.0"/><circle cx="183.4" cy="509.0" r="2.0"/><circle cx="188.7" cy="507.5" r="2.0"/><circle cx="188.1" cy="504.3" r="2.0"/><circle cx="160.2" cy="506.6" r="2.0"/><circle cx="153.7" cy="508.3" r="2.0"/><circle cx="183.1" cy="503.3" r="2.0"/><circle cx="163.1" cy="507.5" r="2.0"/><circle cx="154.0" cy="513.4" r="2.0"/><circle cx="162.2" cy="508.7" r="2.0"/><circle cx="164.6" cy="510.1" r="2.0"/><circle cx="155.1" cy="510.7" r="2.0"/><circle cx="185.9" cy="505.0" r="2.0"/><circle cx="182.5" cy="510.2" r="2.0"/><circle cx="155.7" cy="505.2" r="2.0"/><circle cx="158.1" cy="502.0" r="2.0"/><circle cx="174.3" cy="511.2" r="2.0"/><circle cx="172.3" cy="489.8" r="2.0"/><circle cx="166.8" cy="506.8" r="2.0"/><circle cx="162.8" cy="513.2" r="2.0"/><circle cx="152.3" cy="505.6" r="2.0"/><circle cx="170.5" cy="494.2" r="2.0"/><circle cx="171.8" cy="502.6" r="2.0"/><circle cx="168.4" cy="487.1" r="2.0"/><circle cx="150.3" cy="507.8" r="2.0"/><circle cx="176.2" cy="508.4" r="2.0"/><circle cx="184.0" cy="504.2" r="2.0"/><circle cx="165.6" cy="505.1" r="2.0"/><circle cx="158.2" cy="493.5" r="2.0"/><circle cx="179.9" cy="509.4" r="2.0"/><circle cx="175.2" cy="507.1" r="2.0"/><circle cx="153.8" cy="504.3" r="2.0"/><circle cx="157.2" cy="497.7" r="2.0"/><circle cx="156.6" cy="512.8" r="2.0"/><circle cx="149.8" cy="510.6" r="2.0"/><circle cx="162.5" cy="496.8" r="2.0"/><circle cx="151.1" cy="513.5" r="2.0"/><circle cx="150.0" cy="502.9" r="2.0"/><circle cx="165.7" cy="487.7" r="2.0"/><circle cx="162.5" cy="509.4" r="2.0"/><circle cx="155.9" cy="497.5" r="2.0"/><circle cx="169.1" cy="506.6" r="2.0"/><circle cx="154.4" cy="494.6" r="2.0"/><circle cx="159.8" cy="491.9" r="2.0"/><circle cx="166.4" cy="509.1" r="2.0"/><circle cx="183.1" cy="508.4" r="2.0"/><circle cx="165.3" cy="508.9" r="2.0"/><circle cx="169.1" cy="511.7" r="2.0"/><circle cx="165.5" cy="501.5" r="2.0"/><circle cx="171.9" cy="509.3" r="2.0"/><circle cx="173.7" cy="494.6" r="2.0"/><circle cx="164.9" cy="491.7" r="2.0"/><circle cx="152.9" cy="502.6" r="2.0"/><circle cx="169.0" cy="512.1" r="2.0"/><circle cx="168.3" cy="498.1" r="2.0"/><circle cx="155.1" cy="510.6" r="2.0"/><circle cx="171.3" cy="496.3" r="2.0"/><circle cx="183.2" cy="512.7" r="2.0"/><circle cx="157.4" cy="511.2" r="2.0"/><circle cx="165.0" cy="496.5" r="2.0"/><circle cx="175.9" cy="508.2" r="2.0"/><circle cx="186.7" cy="503.8" r="2.0"/><circle cx="172.7" cy="505.3" r="2.0"/><circle cx="167.1" cy="512.7" r="2.0"/><circle cx="166.3" cy="506.2" r="2.0"/><circle cx="173.5" cy="509.1" r="2.0"/><circle cx="159.2" cy="494.6" r="2.0"/><circle cx="173.4" cy="501.4" r="2.0"/><circle cx="161.2" cy="497.9" r="2.0"/><circle cx="164.6" cy="511.0" r="2.0"/><circle cx="174.9" cy="495.6" r="2.0"/><circle cx="169.4" cy="488.8" r="2.0"/><circle cx="174.8" cy="512.9" r="2.0"/><circle cx="164.1" cy="493.0" r="2.0"/><circle cx="157.1" cy="502.8" r="2.0"/><circle cx="171.4" cy="510.9" r="2.0"/><circle cx="168.5" cy="505.0" r="2.0"/><circle cx="186.0" cy="505.9" r="2.0"/><circle cx="182.3" cy="513.4" r="2.0"/><circle cx="161.1" cy="504.3" r="2.0"/><circle cx="159.6" cy="503.1" r="2.0"/><circle cx="180.3" cy="492.7" r="2.0"/><circle cx="169.4" cy="510.7" r="2.0"/><circle cx="173.8" cy="494.3" r="2.0"/><circle cx="177.3" cy="510.1" r="2.0"/><circle cx="150.8" cy="505.3" r="2.0"/><circle cx="161.3" cy="503.2" r="2.0"/><circle cx="166.8" cy="510.5" r="2.0"/><circle cx="156.5" cy="497.6" r="2.0"/><circle cx="156.3" cy="504.6" r="2.0"/><circle cx="159.9" cy="488.7" r="2.0"/><circle cx="157.1" cy="510.3" r="2.0"/><circle cx="151.8" cy="506.2" r="2.0"/><circle cx="169.6" cy="507.9" r="2.0"/><circle cx="165.7" cy="500.4" r="2.0"/><circle cx="174.7" cy="499.9" r="2.0"/><circle cx="178.3" cy="508.2" r="2.0"/><circle cx="178.5" cy="494.6" r="2.0"/><circle cx="161.0" cy="492.6" r="2.0"/><circle cx="164.8" cy="494.2" r="2.0"/><circle cx="161.3" cy="489.5" r="2.0"/><circle cx="165.5" cy="507.9" r="2.0"/><circle cx="166.9" cy="498.9" r="2.0"/><circle cx="172.0" cy="508.4" r="2.0"/><circle cx="161.0" cy="510.9" r="2.0"/><circle cx="160.4" cy="494.5" r="2.0"/><circle cx="151.4" cy="502.3" r="2.0"/><circle cx="188.4" cy="510.4" r="2.0"/><circle cx="160.3" cy="490.9" r="2.0"/><circle cx="155.7" cy="501.5" r="2.0"/><circle cx="154.5" cy="512.2" r="2.0"/><circle cx="167.4" cy="492.8" r="2.0"/><circle cx="184.0" cy="513.4" r="2.0"/><circle cx="162.6" cy="508.8" r="2.0"/><circle cx="152.4" cy="509.8" r="2.0"/><circle cx="182.5" cy="504.4" r="2.0"/><circle cx="167.3" cy="492.1" r="2.0"/><circle cx="166.7" cy="497.3" r="2.0"/><circle cx="168.4" cy="488.1" r="2.0"/><circle cx="176.1" cy="509.1" r="2.0"/><circle cx="163.9" cy="495.8" r="2.0"/><circle cx="162.2" cy="497.5" r="2.0"/><circle cx="169.1" cy="490.5" r="2.0"/><circle cx="165.8" cy="497.5" r="2.0"/><circle cx="150.4" cy="500.4" r="2.0"/><circle cx="169.1" cy="498.0" r="2.0"/><circle cx="157.5" cy="498.6" r="2.0"/><circle cx="155.4" cy="491.4" r="2.0"/><circle cx="166.5" cy="510.9" r="2.0"/><circle cx="179.9" cy="509.7" r="2.0"/><circle cx="163.9" cy="498.7" r="2.0"/><circle cx="156.1" cy="495.3" r="2.0"/><circle cx="151.5" cy="498.6" r="2.0"/><circle cx="151.2" cy="497.8" r="2.0"/><circle cx="186.3" cy="505.3" r="2.0"/><circle cx="157.0" cy="509.9" r="2.0"/><circle cx="169.9" cy="513.0" r="2.0"/><circle cx="155.2" cy="506.5" r="2.0"/><circle cx="151.4" cy="497.8" r="2.0"/><circle cx="162.4" cy="508.0" r="2.0"/><circle cx="156.3" cy="507.8" r="2.0"/><circle cx="168.3" cy="505.1" r="2.0"/><circle cx="187.1" cy="512.5" r="2.0"/><circle cx="181.1" cy="509.8" r="2.0"/><circle cx="155.9" cy="511.3" r="2.0"/><circle cx="165.0" cy="502.8" r="2.0"/><circle cx="163.8" cy="499.1" r="2.0"/><circle cx="158.0" cy="501.8" r="2.0"/><circle cx="175.0" cy="496.6" r="2.0"/><circle cx="171.6" cy="513.5" r="2.0"/><circle cx="174.1" cy="499.5" r="2.0"/><circle cx="175.1" cy="509.2" r="2.0"/><circle cx="155.7" cy="509.5" r="2.0"/><circle cx="164.2" cy="504.1" r="2.0"/><circle cx="167.6" cy="492.1" r="2.0"/><circle cx="179.3" cy="502.8" r="2.0"/><circle cx="158.2" cy="495.5" r="2.0"/><circle cx="157.0" cy="507.2" r="2.0"/><circle cx="158.5" cy="505.4" r="2.0"/><circle cx="159.8" cy="498.3" r="2.0"/><circle cx="153.2" cy="506.9" r="2.0"/><circle cx="151.4" cy="509.4" r="2.0"/><circle cx="161.0" cy="502.4" r="2.0"/><circle cx="156.0" cy="500.5" r="2.0"/><circle cx="160.7" cy="492.2" r="2.0"/><circle cx="155.7" cy="505.0" r="2.0"/><circle cx="172.5" cy="496.1" r="2.0"/><circle cx="157.0" cy="491.5" r="2.0"/><circle cx="156.1" cy="513.0" r="2.0"/><circle cx="164.4" cy="507.8" r="2.0"/><circle cx="161.7" cy="506.5" r="2.0"/><circle cx="160.8" cy="503.3" r="2.0"/><circle cx="179.8" cy="506.3" r="2.0"/><circle cx="161.9" cy="512.8" r="2.0"/><circle cx="163.6" cy="502.5" r="2.0"/><circle cx="187.0" cy="508.4" r="2.0"/><circle cx="179.9" cy="499.8" r="2.0"/><circle cx="172.7" cy="502.3" r="2.0"/><circle cx="152.5" cy="513.4" r="2.0"/><circle cx="156.1" cy="497.2" r="2.0"/><circle cx="175.8" cy="497.7" r="2.0"/><circle cx="158.3" cy="498.1" r="2.0"/><circle cx="158.8" cy="507.5" r="2.0"/><circle cx="150.7" cy="511.3" r="2.0"/><circle cx="183.0" cy="505.4" r="2.0"/><circle cx="186.7" cy="510.2" r="2.0"/><circle cx="163.7" cy="489.6" r="2.0"/><circle cx="172.9" cy="499.8" r="2.0"/><circle cx="163.4" cy="495.4" r="2.0"/><circle cx="184.0" cy="507.9" r="2.0"/><circle cx="169.7" cy="510.4" r="2.0"/><circle cx="175.8" cy="504.4" r="2.0"/><circle cx="182.0" cy="497.2" r="2.0"/><circle cx="155.2" cy="493.2" r="2.0"/><circle cx="170.8" cy="509.7" r="2.0"/><circle cx="154.2" cy="497.5" r="2.0"/><circle cx="157.3" cy="512.8" r="2.0"/><circle cx="156.8" cy="500.3" r="2.0"/><circle cx="175.1" cy="500.2" r="2.0"/><circle cx="166.3" cy="508.8" r="2.0"/><circle cx="175.2" cy="500.6" r="2.0"/><circle cx="166.6" cy="507.4" r="2.0"/><circle cx="161.7" cy="497.6" r="2.0"/><circle cx="174.5" cy="490.0" r="2.0"/><circle cx="155.8" cy="492.8" r="2.0"/><circle cx="177.4" cy="507.5" r="2.0"/><circle cx="182.7" cy="513.0" r="2.0"/><circle cx="159.3" cy="490.3" r="2.0"/><circle cx="173.6" cy="496.7" r="2.0"/><circle cx="154.0" cy="512.7" r="2.0"/><circle cx="162.0" cy="491.3" r="2.0"/><circle cx="166.1" cy="495.2" r="2.0"/><circle cx="171.7" cy="490.4" r="2.0"/><circle cx="155.0" cy="509.5" r="2.0"/><circle cx="166.5" cy="501.3" r="2.0"/><circle cx="174.4" cy="489.0" r="2.0"/><circle cx="160.0" cy="492.3" r="2.0"/><circle cx="179.1" cy="506.0" r="2.0"/><circle cx="170.6" cy="491.1" r="2.0"/><circle cx="175.5" cy="497.8" r="2.0"/><circle cx="171.4" cy="501.5" r="2.0"/><circle cx="175.6" cy="502.9" r="2.0"/><circle cx="160.5" cy="491.2" r="2.0"/><circle cx="156.7" cy="498.9" r="2.0"/><circle cx="186.8" cy="509.8" r="2.0"/><circle cx="163.4" cy="495.2" r="2.0"/><circle cx="155.7" cy="510.7" r="2.0"/><circle cx="167.5" cy="508.4" r="2.0"/><circle cx="172.7" cy="496.1" r="2.0"/><circle cx="172.8" cy="489.0" r="2.0"/><circle cx="165.2" cy="495.2" r="2.0"/><circle cx="157.7" cy="502.9" r="2.0"/><circle cx="158.5" cy="492.2" r="2.0"/><circle cx="162.3" cy="507.4" r="2.0"/><circle cx="150.6" cy="512.2" r="2.0"/><circle cx="172.7" cy="499.1" r="2.0"/><circle cx="170.2" cy="509.1" r="2.0"/><circle cx="182.0" cy="496.4" r="2.0"/><circle cx="181.9" cy="498.6" r="2.0"/><circle cx="173.6" cy="494.8" r="2.0"/><circle cx="175.9" cy="503.4" r="2.0"/><circle cx="158.3" cy="495.4" r="2.0"/><circle cx="174.4" cy="504.6" r="2.0"/><circle cx="172.3" cy="499.1" r="2.0"/><circle cx="178.1" cy="494.4" r="2.0"/><circle cx="168.4" cy="497.6" r="2.0"/><circle cx="160.1" cy="494.4" r="2.0"/><circle cx="174.3" cy="491.8" r="2.0"/><circle cx="160.4" cy="495.3" r="2.0"/><circle cx="153.4" cy="493.0" r="2.0"/><circle cx="153.7" cy="511.1" r="2.0"/><circle cx="178.6" cy="498.5" r="2.0"/><circle cx="156.5" cy="504.2" r="2.0"/><circle cx="181.8" cy="511.1" r="2.0"/><circle cx="152.7" cy="510.7" r="2.0"/><circle cx="180.1" cy="497.9" r="2.0"/><circle cx="158.8" cy="493.0" r="2.0"/><circle cx="177.8" cy="508.3" r="2.0"/><circle cx="152.1" cy="503.7" r="2.0"/><circle cx="169.7" cy="512.7" r="2.0"/><circle cx="157.5" cy="489.8" r="2.0"/><circle cx="174.2" cy="489.9" r="2.0"/><circle cx="162.1" cy="508.7" r="2.0"/><circle cx="151.0" cy="509.2" r="2.0"/><circle cx="164.8" cy="488.3" r="2.0"/><circle cx="154.2" cy="509.5" r="2.0"/><circle cx="170.1" cy="513.2" r="2.0"/><circle cx="161.1" cy="509.9" r="2.0"/><circle cx="158.3" cy="508.8" r="2.0"/><circle cx="163.8" cy="491.9" r="2.0"/><circle cx="173.9" cy="511.5" r="2.0"/><circle cx="180.3" cy="497.3" r="2.0"/><circle cx="153.3" cy="498.1" r="2.0"/><circle cx="156.4" cy="492.0" r="2.0"/><circle cx="168.9" cy="505.2" r="2.0"/><circle cx="172.2" cy="506.8" r="2.0"/><circle cx="181.3" cy="502.9" r="2.0"/><circle cx="152.7" cy="509.1" r="2.0"/><circle cx="160.2" cy="492.2" r="2.0"/><circle cx="171.7" cy="505.5" r="2.0"/><circle cx="157.6" cy="493.5" r="2.0"/><circle cx="153.0" cy="501.4" r="2.0"/><circle cx="152.7" cy="500.7" r="2.0"/><circle cx="183.9" cy="507.0" r="2.0"/><circle cx="154.8" cy="501.5" r="2.0"/><circle cx="154.7" cy="507.3" r="2.0"/><circle cx="158.8" cy="489.4" r="2.0"/><circle cx="170.9" cy="499.5" r="2.0"/><circle cx="177.8" cy="509.4" r="2.0"/><circle cx="168.8" cy="512.2" r="2.0"/><circle cx="174.9" cy="507.2" r="2.0"/><circle cx="155.1" cy="510.7" r="2.0"/><circle cx="155.3" cy="498.9" r="2.0"/><circle cx="174.5" cy="513.1" r="2.0"/><circle cx="161.0" cy="497.6" r="2.0"/><circle cx="153.3" cy="505.8" r="2.0"/><circle cx="173.9" cy="501.3" r="2.0"/><circle cx="154.3" cy="501.0" r="2.0"/><circle cx="173.0" cy="511.6" r="2.0"/><circle cx="184.2" cy="496.5" r="2.0"/><circle cx="156.4" cy="509.1" r="2.0"/><circle cx="154.1" cy="506.0" r="2.0"/><circle cx="182.3" cy="508.0" r="2.0"/><circle cx="180.4" cy="510.7" r="2.0"/><circle cx="174.4" cy="499.5" r="2.0"/><circle cx="166.0" cy="509.9" r="2.0"/><circle cx="161.2" cy="511.2" r="2.0"/><circle cx="169.0" cy="506.1" r="2.0"/><circle cx="152.3" cy="508.2" r="2.0"/><circle cx="151.1" cy="507.7" r="2.0"/><circle cx="168.7" cy="499.4" r="2.0"/><circle cx="154.7" cy="510.0" r="2.0"/><circle cx="152.2" cy="494.6" r="2.0"/><circle cx="179.7" cy="506.7" r="2.0"/><circle cx="168.0" cy="499.3" r="2.0"/><circle cx="151.4" cy="512.2" r="2.0"/><circle cx="159.9" cy="509.0" r="2.0"/><circle cx="182.2" cy="509.2" r="2.0"/><circle cx="169.3" cy="510.0" r="2.0"/><circle cx="187.3" cy="510.7" r="2.0"/><circle cx="159.8" cy="500.9" r="2.0"/><circle cx="176.5" cy="508.4" r="2.0"/><circle cx="180.2" cy="493.9" r="2.0"/><circle cx="183.6" cy="506.1" r="2.0"/><circle cx="172.9" cy="508.4" r="2.0"/><circle cx="161.0" cy="494.9" r="2.0"/><circle cx="163.0" cy="507.9" r="2.0"/><circle cx="176.8" cy="498.3" r="2.0"/><circle cx="170.1" cy="509.7" r="2.0"/><circle cx="154.8" cy="510.5" r="2.0"/><circle cx="150.9" cy="511.8" r="2.0"/><circle cx="166.3" cy="498.3" r="2.0"/><circle cx="156.8" cy="505.9" r="2.0"/><circle cx="157.2" cy="500.8" r="2.0"/><circle cx="156.7" cy="490.9" r="2.0"/><circle cx="188.8" cy="507.1" r="2.0"/><circle cx="152.3" cy="504.0" r="2.0"/><circle cx="168.4" cy="512.2" r="2.0"/><circle cx="182.9" cy="509.2" r="2.0"/><circle cx="169.1" cy="505.9" r="2.0"/><circle cx="164.6" cy="513.3" r="2.0"/><circle cx="164.4" cy="506.3" r="2.0"/><circle cx="178.8" cy="510.9" r="2.0"/><circle cx="152.2" cy="496.0" r="2.0"/><circle cx="161.2" cy="495.3" r="2.0"/><circle cx="159.6" cy="499.4" r="2.0"/><circle cx="164.1" cy="508.1" r="2.0"/><circle cx="174.9" cy="491.8" r="2.0"/><circle cx="169.3" cy="504.0" r="2.0"/><circle cx="181.2" cy="494.5" r="2.0"/><circle cx="150.7" cy="513.0" r="2.0"/><circle cx="178.5" cy="493.3" r="2.0"/><circle cx="153.1" cy="506.1" r="2.0"/><circle cx="153.5" cy="503.4" r="2.0"/><circle cx="169.7" cy="508.7" r="2.0"/><circle cx="167.6" cy="507.2" r="2.0"/><circle cx="182.2" cy="512.8" r="2.0"/><circle cx="153.4" cy="493.2" r="2.0"/><circle cx="163.7" cy="487.7" r="2.0"/><circle cx="150.8" cy="509.8" r="2.0"/><circle cx="176.7" cy="495.9" r="2.0"/><circle cx="173.7" cy="509.7" r="2.0"/><circle cx="166.2" cy="498.6" r="2.0"/><circle cx="184.7" cy="504.4" r="2.0"/><circle cx="164.8" cy="499.2" r="2.0"/><circle cx="160.8" cy="509.8" r="2.0"/><circle cx="172.3" cy="487.9" r="2.0"/><circle cx="157.1" cy="503.9" r="2.0"/><circle cx="178.9" cy="493.3" r="2.0"/><circle cx="187.2" cy="511.5" r="2.0"/><circle cx="166.1" cy="509.1" r="2.0"/><circle cx="150.5" cy="513.3" r="2.0"/><circle cx="179.2" cy="496.2" r="2.0"/><circle cx="165.4" cy="504.2" r="2.0"/><circle cx="173.9" cy="496.0" r="2.0"/><circle cx="158.7" cy="502.1" r="2.0"/><circle cx="169.6" cy="504.3" r="2.0"/><circle cx="179.1" cy="497.7" r="2.0"/><circle cx="160.5" cy="489.0" r="2.0"/><circle cx="165.6" cy="504.6" r="2.0"/><circle cx="159.7" cy="498.2" r="2.0"/><circle cx="151.1" cy="508.9" r="2.0"/><circle cx="160.5" cy="508.3" r="2.0"/><circle cx="163.3" cy="501.1" r="2.0"/><circle cx="159.9" cy="510.4" r="2.0"/><circle cx="160.7" cy="488.6" r="2.0"/><circle cx="173.0" cy="500.5" r="2.0"/><circle cx="150.9" cy="501.4" r="2.0"/><circle cx="167.1" cy="513.3" r="2.0"/><circle cx="153.4" cy="498.5" r="2.0"/><circle cx="155.9" cy="492.7" r="2.0"/><circle cx="159.6" cy="490.6" r="2.0"/><circle cx="162.3" cy="498.7" r="2.0"/><circle cx="161.9" cy="511.0" r="2.0"/><circle cx="157.9" cy="510.5" r="2.0"/><circle cx="178.1" cy="508.2" r="2.0"/><circle cx="161.1" cy="502.9" r="2.0"/><circle cx="157.8" cy="507.5" r="2.0"/><circle cx="157.2" cy="498.8" r="2.0"/><circle cx="165.0" cy="488.6" r="2.0"/><circle cx="171.0" cy="505.9" r="2.0"/><circle cx="169.6" cy="500.0" r="2.0"/><circle cx="181.5" cy="512.2" r="2.0"/><circle cx="176.5" cy="507.8" r="2.0"/><circle cx="153.7" cy="503.5" r="2.0"/><circle cx="173.5" cy="503.0" r="2.0"/><circle cx="156.2" cy="494.2" r="2.0"/><circle cx="174.9" cy="498.9" r="2.0"/><circle cx="167.9" cy="488.2" r="2.0"/><circle cx="168.7" cy="497.7" r="2.0"/><circle cx="162.7" cy="496.8" r="2.0"/><circle cx="160.2" cy="496.5" r="2.0"/><circle cx="167.9" cy="506.3" r="2.0"/><circle cx="169.9" cy="512.8" r="2.0"/><circle cx="155.3" cy="508.4" r="2.0"/><circle cx="167.7" cy="512.3" r="2.0"/><circle cx="152.4" cy="505.2" r="2.0"/><circle cx="175.3" cy="496.5" r="2.0"/><circle cx="173.9" cy="509.4" r="2.0"/><circle cx="180.8" cy="505.9" r="2.0"/><circle cx="179.4" cy="512.9" r="2.0"/><circle cx="153.5" cy="497.7" r="2.0"/><circle cx="159.3" cy="504.9" r="2.0"/><circle cx="171.3" cy="497.0" r="2.0"/><circle cx="155.1" cy="501.9" r="2.0"/><circle cx="157.5" cy="510.2" r="2.0"/><circle cx="182.3" cy="498.3" r="2.0"/><circle cx="158.0" cy="511.7" r="2.0"/><circle cx="172.0" cy="505.3" r="2.0"/><circle cx="166.7" cy="510.6" r="2.0"/><circle cx="161.8" cy="513.2" r="2.0"/><circle cx="149.9" cy="506.7" r="2.0"/><circle cx="157.5" cy="509.8" r="2.0"/><circle cx="153.0" cy="504.7" r="2.0"/><circle cx="186.0" cy="500.4" r="2.0"/><circle cx="165.5" cy="489.8" r="2.0"/><circle cx="150.2" cy="503.3" r="2.0"/><circle cx="154.9" cy="493.3" r="2.0"/><circle cx="158.0" cy="500.2" r="2.0"/><circle cx="179.4" cy="510.9" r="2.0"/><circle cx="153.2" cy="510.1" r="2.0"/><circle cx="162.5" cy="490.6" r="2.0"/><circle cx="158.1" cy="513.1" r="2.0"/><circle cx="179.3" cy="508.0" r="2.0"/><circle cx="171.9" cy="500.3" r="2.0"/><circle cx="156.9" cy="503.1" r="2.0"/><circle cx="172.1" cy="509.4" r="2.0"/><circle cx="173.2" cy="489.0" r="2.0"/><circle cx="184.5" cy="500.5" r="2.0"/><circle cx="176.9" cy="512.3" r="2.0"/><circle cx="176.2" cy="497.5" r="2.0"/><circle cx="166.4" cy="505.8" r="2.0"/><circle cx="175.1" cy="490.0" r="2.0"/><circle cx="168.7" cy="490.3" r="2.0"/><circle cx="183.9" cy="512.9" r="2.0"/><circle cx="176.9" cy="503.1" r="2.0"/><circle cx="153.8" cy="508.6" r="2.0"/><circle cx="154.1" cy="496.9" r="2.0"/><circle cx="154.7" cy="510.2" r="2.0"/><circle cx="154.5" cy="499.6" r="2.0"/><circle cx="179.5" cy="503.1" r="2.0"/><circle cx="168.8" cy="495.6" r="2.0"/><circle cx="185.0" cy="511.0" r="2.0"/><circle cx="153.5" cy="506.3" r="2.0"/><circle cx="167.3" cy="500.8" r="2.0"/><circle cx="154.5" cy="494.1" r="2.0"/><circle cx="162.5" cy="503.7" r="2.0"/><circle cx="152.4" cy="508.4" r="2.0"/><circle cx="155.7" cy="498.9" r="2.0"/><circle cx="150.2" cy="507.1" r="2.0"/><circle cx="188.1" cy="510.1" r="2.0"/><circle cx="149.9" cy="513.4" r="2.0"/><circle cx="155.9" cy="497.0" r="2.0"/><circle cx="169.6" cy="505.8" r="2.0"/><circle cx="153.2" cy="505.6" r="2.0"/><circle cx="185.5" cy="504.8" r="2.0"/><circle cx="166.8" cy="507.0" r="2.0"/><circle cx="211.0" cy="502.7" r="2.0"/><circle cx="190.1" cy="495.6" r="2.0"/><circle cx="166.7" cy="478.7" r="2.0"/><circle cx="180.0" cy="487.8" r="2.0"/><circle cx="150.0" cy="502.4" r="2.0"/><circle cx="167.8" cy="470.0" r="2.0"/><circle cx="198.6" cy="487.1" r="2.0"/><circle cx="196.2" cy="472.1" r="2.0"/><circle cx="196.6" cy="486.2" r="2.0"/><circle cx="184.4" cy="479.1" r="2.0"/><circle cx="172.1" cy="477.2" r="2.0"/><circle cx="175.8" cy="463.3" r="2.0"/><circle cx="173.2" cy="489.4" r="2.0"/><circle cx="173.6" cy="468.7" r="2.0"/><circle cx="161.7" cy="475.0" r="2.0"/><circle cx="170.5" cy="481.8" r="2.0"/><circle cx="190.2" cy="509.9" r="2.0"/><circle cx="182.5" cy="493.0" r="2.0"/><circle cx="204.4" cy="484.2" r="2.0"/><circle cx="175.4" cy="488.8" r="2.0"/><circle cx="154.8" cy="482.5" r="2.0"/><circle cx="151.7" cy="493.9" r="2.0"/><circle cx="154.9" cy="478.3" r="2.0"/><circle cx="175.4" cy="481.3" r="2.0"/><circle cx="165.8" cy="491.7" r="2.0"/><circle cx="185.2" cy="467.4" r="2.0"/><circle cx="168.7" cy="488.1" r="2.0"/><circle cx="213.9" cy="494.4" r="2.0"/><circle cx="199.6" cy="480.4" r="2.0"/><circle cx="166.1" cy="470.3" r="2.0"/><circle cx="162.1" cy="493.5" r="2.0"/><circle cx="151.3" cy="488.7" r="2.0"/><circle cx="200.1" cy="506.4" r="2.0"/><circle cx="181.3" cy="497.6" r="2.0"/><circle cx="188.1" cy="488.0" r="2.0"/><circle cx="154.7" cy="487.5" r="2.0"/><circle cx="161.2" cy="488.5" r="2.0"/><circle cx="177.7" cy="490.5" r="2.0"/><circle cx="164.3" cy="479.4" r="2.0"/><circle cx="156.0" cy="482.8" r="2.0"/><circle cx="206.8" cy="502.8" r="2.0"/><circle cx="152.9" cy="495.3" r="2.0"/><circle cx="199.3" cy="511.5" r="2.0"/><circle cx="195.6" cy="498.0" r="2.0"/><circle cx="176.6" cy="476.0" r="2.0"/><circle cx="160.4" cy="472.5" r="2.0"/><circle cx="165.9" cy="476.8" r="2.0"/><circle cx="193.2" cy="509.1" r="2.0"/><circle cx="155.8" cy="489.9" r="2.0"/><circle cx="156.0" cy="474.5" r="2.0"/><circle cx="175.8" cy="486.7" r="2.0"/><circle cx="162.4" cy="481.0" r="2.0"/><circle cx="175.9" cy="472.5" r="2.0"/><circle cx="190.9" cy="468.4" r="2.0"/><circle cx="161.4" cy="493.4" r="2.0"/><circle cx="180.1" cy="476.8" r="2.0"/><circle cx="180.5" cy="494.0" r="2.0"/><circle cx="162.5" cy="490.2" r="2.0"/><circle cx="151.1" cy="498.9" r="2.0"/><circle cx="194.2" cy="480.6" r="2.0"/><circle cx="191.8" cy="494.5" r="2.0"/><circle cx="194.1" cy="498.8" r="2.0"/><circle cx="175.8" cy="473.0" r="2.0"/><circle cx="209.2" cy="491.1" r="2.0"/><circle cx="155.2" cy="478.5" r="2.0"/><circle cx="190.0" cy="474.2" r="2.0"/><circle cx="181.4" cy="464.8" r="2.0"/><circle cx="172.4" cy="475.4" r="2.0"/><circle cx="173.3" cy="491.4" r="2.0"/><circle cx="162.5" cy="480.0" r="2.0"/><circle cx="173.0" cy="487.3" r="2.0"/><circle cx="166.1" cy="469.6" r="2.0"/><circle cx="191.5" cy="473.7" r="2.0"/><circle cx="180.4" cy="496.5" r="2.0"/><circle cx="177.5" cy="471.3" r="2.0"/><circle cx="180.9" cy="474.1" r="2.0"/><circle cx="167.4" cy="475.4" r="2.0"/><circle cx="165.5" cy="469.6" r="2.0"/><circle cx="151.6" cy="498.8" r="2.0"/><circle cx="176.3" cy="479.4" r="2.0"/><circle cx="164.7" cy="488.8" r="2.0"/><circle cx="170.0" cy="471.7" r="2.0"/><circle cx="204.7" cy="508.2" r="2.0"/><circle cx="214.6" cy="499.5" r="2.0"/><circle cx="166.4" cy="483.9" r="2.0"/><circle cx="167.4" cy="477.9" r="2.0"/><circle cx="168.3" cy="490.7" r="2.0"/><circle cx="216.1" cy="502.6" r="2.0"/><circle cx="157.1" cy="475.5" r="2.0"/><circle cx="185.0" cy="465.6" r="2.0"/><circle cx="211.0" cy="511.6" r="2.0"/><circle cx="168.5" cy="477.4" r="2.0"/><circle cx="186.4" cy="467.0" r="2.0"/><circle cx="197.8" cy="509.6" r="2.0"/><circle cx="181.1" cy="484.0" r="2.0"/><circle cx="175.0" cy="491.1" r="2.0"/><circle cx="179.9" cy="472.3" r="2.0"/><circle cx="182.2" cy="483.7" r="2.0"/><circle cx="191.9" cy="484.3" r="2.0"/><circle cx="196.8" cy="503.7" r="2.0"/><circle cx="169.9" cy="470.9" r="2.0"/><circle cx="182.9" cy="498.4" r="2.0"/><circle cx="169.5" cy="480.9" r="2.0"/><circle cx="189.8" cy="507.9" r="2.0"/><circle cx="197.4" cy="480.7" r="2.0"/><circle cx="159.9" cy="494.2" r="2.0"/><circle cx="167.0" cy="470.3" r="2.0"/><circle cx="168.8" cy="476.2" r="2.0"/><circle cx="186.7" cy="480.0" r="2.0"/><circle cx="173.6" cy="473.7" r="2.0"/><circle cx="185.8" cy="485.6" r="2.0"/><circle cx="177.1" cy="474.2" r="2.0"/><circle cx="181.8" cy="488.3" r="2.0"/><circle cx="180.6" cy="488.9" r="2.0"/><circle cx="206.6" cy="486.8" r="2.0"/><circle cx="195.3" cy="507.9" r="2.0"/><circle cx="162.4" cy="481.5" r="2.0"/><circle cx="159.0" cy="492.5" r="2.0"/><circle cx="182.2" cy="497.6" r="2.0"/><circle cx="182.8" cy="472.4" r="2.0"/><circle cx="192.4" cy="506.1" r="2.0"/><circle cx="183.6" cy="494.3" r="2.0"/><circle cx="156.3" cy="482.6" r="2.0"/><circle cx="184.0" cy="488.6" r="2.0"/><circle cx="175.3" cy="463.4" r="2.0"/><circle cx="179.2" cy="496.6" r="2.0"/><circle cx="166.5" cy="475.1" r="2.0"/><circle cx="161.8" cy="486.1" r="2.0"/><circle cx="182.1" cy="471.9" r="2.0"/><circle cx="154.8" cy="490.7" r="2.0"/><circle cx="199.3" cy="303.9" r="2.0"/><circle cx="232.3" cy="305.5" r="2.0"/><circle cx="213.0" cy="318.1" r="2.0"/><circle cx="217.6" cy="321.8" r="2.0"/><circle cx="235.2" cy="318.1" r="2.0"/><circle cx="209.3" cy="338.9" r="2.0"/><circle cx="229.9" cy="350.7" r="2.0"/><circle cx="235.8" cy="353.2" r="2.0"/><circle cx="250.9" cy="349.5" r="2.0"/><circle cx="198.3" cy="360.9" r="2.0"/><circle cx="183.4" cy="369.1" r="2.0"/><circle cx="228.2" cy="367.5" r="2.0"/><circle cx="213.0" cy="384.4" r="2.0"/><circle cx="227.2" cy="403.5" r="2.0"/><circle cx="234.8" cy="409.4" r="2.0"/><circle cx="251.9" cy="409.4" r="2.0"/><circle cx="263.7" cy="411.1" r="2.0"/><circle cx="191.1" cy="412.7" r="2.0"/><circle cx="216.6" cy="416.8" r="2.0"/><circle cx="258.8" cy="423.0" r="2.0"/><circle cx="181.8" cy="426.5" r="2.0"/><circle cx="202.2" cy="427.1" r="2.0"/><circle cx="207.3" cy="426.5" r="2.0"/><circle cx="227.6" cy="428.9" r="2.0"/><circle cx="214.4" cy="430.0" r="2.0"/><circle cx="171.0" cy="432.2" r="2.0"/><circle cx="202.8" cy="430.6" r="2.0"/><circle cx="249.0" cy="433.6" r="2.0"/><circle cx="259.2" cy="433.0" r="2.0"/><circle cx="213.4" cy="436.7" r="2.0"/><circle cx="188.5" cy="438.7" r="2.0"/><circle cx="197.1" cy="437.7" r="2.0"/><circle cx="197.7" cy="440.8" r="2.0"/><circle cx="203.8" cy="438.7" r="2.0"/><circle cx="250.1" cy="446.5" r="2.0"/><circle cx="215.4" cy="447.9" r="2.0"/><circle cx="224.2" cy="448.3" r="2.0"/><circle cx="181.8" cy="445.9" r="2.0"/><circle cx="180.8" cy="447.5" r="2.0"/><circle cx="196.0" cy="449.3" r="2.0"/><circle cx="194.0" cy="453.4" r="2.0"/><circle cx="202.2" cy="453.0" r="2.0"/><circle cx="201.8" cy="455.0" r="2.0"/><circle cx="209.9" cy="453.4" r="2.0"/><circle cx="222.6" cy="453.4" r="2.0"/><circle cx="207.3" cy="458.1" r="2.0"/><circle cx="177.7" cy="458.1" r="2.0"/><circle cx="181.8" cy="457.7" r="2.0"/><circle cx="204.2" cy="460.7" r="2.0"/><circle cx="205.8" cy="463.6" r="2.0"/><circle cx="170.6" cy="461.6" r="2.0"/><circle cx="171.2" cy="463.2" r="2.0"/><circle cx="188.9" cy="462.2" r="2.0"/><circle cx="180.4" cy="465.2" r="2.0"/><circle cx="183.8" cy="463.6" r="2.0"/><circle cx="197.7" cy="465.6" r="2.0"/><circle cx="191.0" cy="467.3" r="2.0"/><circle cx="192.6" cy="466.2" r="2.0"/><circle cx="217.5" cy="475.4" r="2.0"/><circle cx="220.5" cy="477.0" r="2.0"/><circle cx="223.2" cy="471.3" r="2.0"/><circle cx="221.5" cy="500.9" r="2.0"/><circle cx="209.3" cy="485.6" r="2.0"/><circle cx="213.4" cy="503.5" r="2.0"/><circle cx="216.4" cy="505.0" r="2.0"/><circle cx="209.3" cy="506.4" r="2.0"/><circle cx="201.1" cy="493.8" r="2.0"/><circle cx="203.2" cy="489.7" r="2.0"/><circle cx="196.0" cy="494.8" r="2.0"/><circle cx="194.0" cy="504.0" r="2.0"/><circle cx="191.0" cy="500.9" r="2.0"/><circle cx="205.6" cy="500.9" r="2.0"/><circle cx="202.2" cy="498.9" r="2.0"/><circle cx="188.9" cy="477.5" r="2.0"/><circle cx="190.0" cy="476.4" r="2.0"/><circle cx="195.0" cy="475.0" r="2.0"/><circle cx="199.1" cy="478.5" r="2.0"/><circle cx="198.1" cy="488.7" r="2.0"/><circle cx="186.9" cy="486.6" r="2.0"/><circle cx="179.7" cy="480.5" r="2.0"/><circle cx="156.3" cy="475.0" r="2.0"/><circle cx="159.8" cy="472.4" r="2.0"/><circle cx="166.5" cy="473.8" r="2.0"/><circle cx="170.2" cy="468.3" r="2.0"/><circle cx="173.6" cy="470.3" r="2.0"/><circle cx="177.7" cy="471.3" r="2.0"/></g>
<line x1="132.3" y1="293.9" x2="132.3" y2="528.5" stroke="#222" stroke-width="1.3" stroke-dasharray="5.2 2.3 1.4 2.3"/>
<line x1="148.8" y1="293.9" x2="148.8" y2="528.5" stroke="#222" stroke-width="1.3" stroke-dasharray="5.2 2.3 1.4 2.3"/>
<line x1="39.3" y1="514.5" x2="274.7" y2="514.5" stroke="#222" stroke-width="1.3" stroke-dasharray="5.2 2.3 1.4 2.3"/>
<text x="237.6" y="315.9" font-size="8.7" fill="#222" text-anchor="start" >IL-36RN</text>
<text x="249.2" y="343.6" font-size="8.7" fill="#222" text-anchor="start" >TLR7</text>
<text x="221.3" y="363.8" font-size="8.7" fill="#222" text-anchor="start" >SERPINB4</text>
<text x="231.3" y="406.4" font-size="8.7" fill="#222" text-anchor="start" >CARD14</text>
<text x="224.8" y="418.7" font-size="8.7" fill="#222" text-anchor="start" >SPRR2A</text>
<text x="204.8" y="425" font-size="8.7" fill="#222" text-anchor="start" >SPRR2D</text>
<text x="237" y="431" font-size="8.7" fill="#222" text-anchor="start" >DEFB4A</text>
<text x="211.8" y="443.4" font-size="8.7" fill="#222" text-anchor="start" >SPRR2B</text>
<text x="239.5" y="443.4" font-size="8.7" fill="#222" text-anchor="start" >DEFB4B</text>
<text x="227.8" y="456.6" font-size="8.7" fill="#222" text-anchor="start" >SPRR2F</text>
<text x="50.7" y="429.4" font-size="8.7" fill="#222" text-anchor="start" >THRSP</text>
<text x="44.5" y="470.7" font-size="8.7" fill="#222" text-anchor="start" >GPD1</text>
<text x="52.3" y="485.2" font-size="8.7" fill="#222" text-anchor="start" >FADS2</text>
<text x="42.2" y="495.6" font-size="8.7" fill="#222" text-anchor="start" >PM20D1</text>
<text x="42.2" y="518.1" font-size="8.7" fill="#222" text-anchor="start" >AWAT2</text>
<text x="76.3" y="525" font-size="8.7" fill="#222" text-anchor="start" >GAL</text>
<line x1="241.5" y1="422.7" x2="258.5" y2="422.7" stroke="#333" stroke-width="0.6" />
<line x1="57.2" y1="497" x2="51.8" y2="505.2" stroke="#222" stroke-width="0.8" />
<line x1="74.7" y1="520.5" x2="63.5" y2="506.5" stroke="#222" stroke-width="0.8" />
<rect x="39.3" y="293.9" width="235.4" height="234.6" fill="none" stroke="#333" stroke-width="0.9"/>
<line x1="57" y1="528.5" x2="57" y2="531.3" stroke="#333" stroke-width="0.9" />
<text x="57" y="540.4" font-size="10.6" fill="#4d4d4d" text-anchor="middle" >−10</text>
<line x1="98.7" y1="528.5" x2="98.7" y2="531.3" stroke="#333" stroke-width="0.9" />
<text x="98.7" y="540.4" font-size="10.6" fill="#4d4d4d" text-anchor="middle" >−5</text>
<line x1="140.4" y1="528.5" x2="140.4" y2="531.3" stroke="#333" stroke-width="0.9" />
<text x="140.4" y="540.4" font-size="10.6" fill="#4d4d4d" text-anchor="middle" >0</text>
<line x1="182.1" y1="528.5" x2="182.1" y2="531.3" stroke="#333" stroke-width="0.9" />
<text x="182.1" y="540.4" font-size="10.6" fill="#4d4d4d" text-anchor="middle" >5</text>
<line x1="223.8" y1="528.5" x2="223.8" y2="531.3" stroke="#333" stroke-width="0.9" />
<text x="223.8" y="540.4" font-size="10.6" fill="#4d4d4d" text-anchor="middle" >10</text>
<line x1="265.5" y1="528.5" x2="265.5" y2="531.3" stroke="#333" stroke-width="0.9" />
<text x="265.5" y="540.4" font-size="10.6" fill="#4d4d4d" text-anchor="middle" >15</text>
<line x1="36.5" y1="517.9" x2="39.3" y2="517.9" stroke="#333" stroke-width="0.9" />
<text x="35.8" y="521.7" font-size="10.6" fill="#4d4d4d" text-anchor="end" >0</text>
<line x1="36.5" y1="447" x2="39.3" y2="447" stroke="#333" stroke-width="0.9" />
<text x="35.8" y="450.8" font-size="10.6" fill="#4d4d4d" text-anchor="end" >100</text>
<line x1="36.5" y1="376" x2="39.3" y2="376" stroke="#333" stroke-width="0.9" />
<text x="35.8" y="379.8" font-size="10.6" fill="#4d4d4d" text-anchor="end" >200</text>
<line x1="36.5" y1="305.1" x2="39.3" y2="305.1" stroke="#333" stroke-width="0.9" />
<text x="35.8" y="308.9" font-size="10.6" fill="#4d4d4d" text-anchor="end" >300</text>
<text x="157" y="554" font-size="12.5" fill="#000" text-anchor="middle" >log2FoldChange</text>
<text transform="translate(12.8 411) rotate(-90)" font-size="13" fill="#000" text-anchor="middle">−logpadj</text>
<text x="287.6" y="391.9" font-size="12.3" fill="#000" text-anchor="start" >DEG</text>
<circle cx="294.6" cy="406.4" r="1.9" fill="#0000ff"/>
<text x="308" y="409.8" font-size="9.7" fill="#000" text-anchor="start" >Down</text>
<circle cx="294.6" cy="420" r="1.9" fill="#bebebe"/>
<text x="308" y="423.4" font-size="9.7" fill="#000" text-anchor="start" >Not</text>
<circle cx="294.6" cy="433.8" r="1.9" fill="#ff0000"/>
<text x="308" y="437.2" font-size="9.7" fill="#000" text-anchor="start" >Up</text>
<line x1="591.4" y1="264.7" x2="591.4" y2="411" stroke="#f5f5f5" stroke-width="0.5" />
<line x1="619.4" y1="264.7" x2="619.4" y2="411" stroke="#f5f5f5" stroke-width="0.5" />
<line x1="647.5" y1="264.7" x2="647.5" y2="411" stroke="#f5f5f5" stroke-width="0.5" />
<line x1="675.6" y1="264.7" x2="675.6" y2="411" stroke="#f5f5f5" stroke-width="0.5" />
<line x1="703.8" y1="264.7" x2="703.8" y2="411" stroke="#f5f5f5" stroke-width="0.5" />
<line x1="577.3" y1="264.7" x2="577.3" y2="411" stroke="#eeeeee" stroke-width="0.8" />
<line x1="605.4" y1="264.7" x2="605.4" y2="411" stroke="#eeeeee" stroke-width="0.8" />
<line x1="633.5" y1="264.7" x2="633.5" y2="411" stroke="#eeeeee" stroke-width="0.8" />
<line x1="661.6" y1="264.7" x2="661.6" y2="411" stroke="#eeeeee" stroke-width="0.8" />
<line x1="689.7" y1="264.7" x2="689.7" y2="411" stroke="#eeeeee" stroke-width="0.8" />
<line x1="717.8" y1="264.7" x2="717.8" y2="411" stroke="#eeeeee" stroke-width="0.8" />
<line x1="571.9" y1="272.8" x2="718.2" y2="272.8" stroke="#eeeeee" stroke-width="0.8" />
<line x1="571.9" y1="287.2" x2="718.2" y2="287.2" stroke="#eeeeee" stroke-width="0.8" />
<line x1="571.9" y1="301.6" x2="718.2" y2="301.6" stroke="#eeeeee" stroke-width="0.8" />
<line x1="571.9" y1="316.1" x2="718.2" y2="316.1" stroke="#eeeeee" stroke-width="0.8" />
<line x1="571.9" y1="330.5" x2="718.2" y2="330.5" stroke="#eeeeee" stroke-width="0.8" />
<line x1="571.9" y1="344.9" x2="718.2" y2="344.9" stroke="#eeeeee" stroke-width="0.8" />
<line x1="571.9" y1="359.3" x2="718.2" y2="359.3" stroke="#eeeeee" stroke-width="0.8" />
<line x1="571.9" y1="373.7" x2="718.2" y2="373.7" stroke="#eeeeee" stroke-width="0.8" />
<line x1="571.9" y1="388.2" x2="718.2" y2="388.2" stroke="#eeeeee" stroke-width="0.8" />
<line x1="571.9" y1="402.6" x2="718.2" y2="402.6" stroke="#eeeeee" stroke-width="0.8" />
<circle cx="711.8" cy="272.8" r="3.0" fill="#cc1490"/>
<line x1="569.1" y1="272.8" x2="571.9" y2="272.8" stroke="#333" stroke-width="0.9" />
<text x="568.6" y="276.5" font-size="10.15" fill="#111" text-anchor="end" >cell killing</text>
<circle cx="661.4" cy="287.2" r="5.9" fill="#cc1490"/>
<line x1="569.1" y1="287.2" x2="571.9" y2="287.2" stroke="#333" stroke-width="0.9" />
<text x="568.6" y="290.9" font-size="10.15" fill="#111" text-anchor="end" >neutrophil mediated immunity</text>
<circle cx="640.8" cy="301.6" r="5.6" fill="#cc1490"/>
<line x1="569.1" y1="301.6" x2="571.9" y2="301.6" stroke="#333" stroke-width="0.9" />
<text x="568.6" y="305.3" font-size="10.15" fill="#111" text-anchor="end" >myeloid cell activation involved in immune response</text>
<circle cx="640.0" cy="316.1" r="5.4" fill="#cc1490"/>
<line x1="569.1" y1="316.1" x2="571.9" y2="316.1" stroke="#333" stroke-width="0.9" />
<text x="568.6" y="319.8" font-size="10.15" fill="#111" text-anchor="end" >neutrophil activation involved in immune response</text>
<circle cx="635.9" cy="330.5" r="5.6" fill="#cc1490"/>
<line x1="569.1" y1="330.5" x2="571.9" y2="330.5" stroke="#333" stroke-width="0.9" />
<text x="568.6" y="334.2" font-size="10.15" fill="#111" text-anchor="end" >myeloid leukocyte mediated immunity</text>
<circle cx="635.2" cy="344.9" r="2.2" fill="#cc1490"/>
<line x1="569.1" y1="344.9" x2="571.9" y2="344.9" stroke="#333" stroke-width="0.9" />
<text x="568.6" y="348.6" font-size="10.15" fill="#111" text-anchor="end" >humoral immune response</text>
<circle cx="623.4" cy="359.3" r="5.8" fill="#cc1490"/>
<line x1="569.1" y1="359.3" x2="571.9" y2="359.3" stroke="#333" stroke-width="0.9" />
<text x="568.6" y="363" font-size="10.15" fill="#111" text-anchor="end" >myeloid leukocyte activation</text>
<circle cx="620.1" cy="373.7" r="4.6" fill="#cc1490"/>
<line x1="569.1" y1="373.7" x2="571.9" y2="373.7" stroke="#333" stroke-width="0.9" />
<text x="568.6" y="377.4" font-size="10.15" fill="#111" text-anchor="end" >epidermis development</text>
<circle cx="589.3" cy="388.2" r="3.7" fill="#cc1490"/>
<line x1="569.1" y1="388.2" x2="571.9" y2="388.2" stroke="#333" stroke-width="0.9" />
<text x="568.6" y="391.9" font-size="10.15" fill="#111" text-anchor="end" >response to molecule of bacterial origin</text>
<circle cx="578.6" cy="402.6" r="5.1" fill="#cc1490"/>
<line x1="569.1" y1="402.6" x2="571.9" y2="402.6" stroke="#333" stroke-width="0.9" />
<text x="568.6" y="406.3" font-size="10.15" fill="#111" text-anchor="end" >inflammatory response</text>
<rect x="571.9" y="264.7" width="146.3" height="146.3" fill="none" stroke="#333" stroke-width="0.9"/>
<line x1="577.3" y1="411" x2="577.3" y2="413.8" stroke="#333" stroke-width="0.9" />
<text x="577.3" y="421.6" font-size="10" fill="#4d4d4d" text-anchor="middle" >0.25</text>
<line x1="605.4" y1="411" x2="605.4" y2="413.8" stroke="#333" stroke-width="0.9" />
<text x="605.4" y="421.6" font-size="10" fill="#4d4d4d" text-anchor="middle" >0.30</text>
<line x1="633.5" y1="411" x2="633.5" y2="413.8" stroke="#333" stroke-width="0.9" />
<text x="633.5" y="421.6" font-size="10" fill="#4d4d4d" text-anchor="middle" >0.35</text>
<line x1="661.6" y1="411" x2="661.6" y2="413.8" stroke="#333" stroke-width="0.9" />
<text x="661.6" y="421.6" font-size="10" fill="#4d4d4d" text-anchor="middle" >0.40</text>
<line x1="689.7" y1="411" x2="689.7" y2="413.8" stroke="#333" stroke-width="0.9" />
<text x="689.7" y="421.6" font-size="10" fill="#4d4d4d" text-anchor="middle" >0.45</text>
<line x1="717.8" y1="411" x2="717.8" y2="413.8" stroke="#333" stroke-width="0.9" />
<text x="717.8" y="421.6" font-size="10" fill="#4d4d4d" text-anchor="middle" >0.50</text>
<text x="644.8" y="432.2" font-size="10" fill="#000" text-anchor="middle" >GeneRatio</text>
<text x="728.9" y="292.3" font-size="7" fill="#1a1a1a" text-anchor="start" >p.adjust</text>
<rect x="729.2" y="296.3" width="6.8" height="31.8" fill="#cc1490"/>
<line x1="729.2" y1="312.3" x2="730.6" y2="312.3" stroke="#fff" stroke-width="0.6" />
<line x1="734.6" y1="312.3" x2="736" y2="312.3" stroke="#fff" stroke-width="0.6" />
<text x="739.2" y="315" font-size="6.9" fill="#333" text-anchor="start" >2.257917e−08</text>
<text x="729" y="348.3" font-size="7" fill="#1a1a1a" text-anchor="start" >Count</text>
<circle cx="736.3" cy="357.6" r="4.1" fill="#000"/>
<text x="746.9" y="360.1" font-size="7.0" fill="#333" text-anchor="start" >80</text>
<circle cx="736.3" cy="369.1" r="5.0" fill="#000"/>
<text x="746.9" y="371.6" font-size="7.0" fill="#333" text-anchor="start" >120</text>
<circle cx="736.3" cy="382.2" r="5.7" fill="#000"/>
<text x="746.9" y="384.7" font-size="7.0" fill="#333" text-anchor="start" >160</text>
<line x1="578.2" y1="459.6" x2="578.2" y2="607.5" stroke="#f5f5f5" stroke-width="0.5" />
<line x1="623" y1="459.6" x2="623" y2="607.5" stroke="#f5f5f5" stroke-width="0.5" />
<line x1="667.8" y1="459.6" x2="667.8" y2="607.5" stroke="#f5f5f5" stroke-width="0.5" />
<line x1="712.6" y1="459.6" x2="712.6" y2="607.5" stroke="#f5f5f5" stroke-width="0.5" />
<line x1="600.6" y1="459.6" x2="600.6" y2="607.5" stroke="#eeeeee" stroke-width="0.8" />
<line x1="645.4" y1="459.6" x2="645.4" y2="607.5" stroke="#eeeeee" stroke-width="0.8" />
<line x1="690.2" y1="459.6" x2="690.2" y2="607.5" stroke="#eeeeee" stroke-width="0.8" />
<line x1="573.1" y1="468.8" x2="721.5" y2="468.8" stroke="#eeeeee" stroke-width="0.8" />
<line x1="573.1" y1="483.2" x2="721.5" y2="483.2" stroke="#eeeeee" stroke-width="0.8" />
<line x1="573.1" y1="497.7" x2="721.5" y2="497.7" stroke="#eeeeee" stroke-width="0.8" />
<line x1="573.1" y1="512.1" x2="721.5" y2="512.1" stroke="#eeeeee" stroke-width="0.8" />
<line x1="573.1" y1="526.6" x2="721.5" y2="526.6" stroke="#eeeeee" stroke-width="0.8" />
<line x1="573.1" y1="541" x2="721.5" y2="541" stroke="#eeeeee" stroke-width="0.8" />
<line x1="573.1" y1="555.4" x2="721.5" y2="555.4" stroke="#eeeeee" stroke-width="0.8" />
<line x1="573.1" y1="569.9" x2="721.5" y2="569.9" stroke="#eeeeee" stroke-width="0.8" />
<line x1="573.1" y1="584.3" x2="721.5" y2="584.3" stroke="#eeeeee" stroke-width="0.8" />
<line x1="573.1" y1="598.8" x2="721.5" y2="598.8" stroke="#eeeeee" stroke-width="0.8" />
<circle cx="714.3" cy="468.8" r="4.1" fill="#ff0a12"/>
<line x1="570.3" y1="468.8" x2="573.1" y2="468.8" stroke="#333" stroke-width="0.9" />
<text x="569.2" y="472.6" font-size="10.8" fill="#111" text-anchor="end" >Proteasome</text>
<circle cx="687.7" cy="483.2" r="6.2" fill="#ff0a12"/>
<line x1="570.3" y1="483.2" x2="573.1" y2="483.2" stroke="#333" stroke-width="0.9" />
<text x="569.2" y="487" font-size="10.8" fill="#111" text-anchor="end" >Ribosome</text>
<circle cx="649.0" cy="497.7" r="6.3" fill="#ff0a12"/>
<line x1="570.3" y1="497.7" x2="573.1" y2="497.7" stroke="#333" stroke-width="0.9" />
<text x="569.2" y="501.5" font-size="10.8" fill="#111" text-anchor="end" >Coronavirus disease − COVID−19</text>
<circle cx="622.6" cy="512.1" r="3.9" fill="#0c0cf0"/>
<line x1="570.3" y1="512.1" x2="573.1" y2="512.1" stroke="#333" stroke-width="0.9" />
<text x="569.2" y="515.9" font-size="10.8" fill="#111" text-anchor="end" >Rheumatoid arthritis</text>
<circle cx="616.2" cy="526.6" r="3.2" fill="#fc0a1e"/>
<line x1="570.3" y1="526.6" x2="573.1" y2="526.6" stroke="#333" stroke-width="0.9" />
<text x="569.2" y="530.4" font-size="10.8" fill="#111" text-anchor="end" >PPAR signaling pathway</text>
<circle cx="613.2" cy="541" r="2.5" fill="#fc0a1e"/>
<line x1="570.3" y1="541" x2="573.1" y2="541" stroke="#333" stroke-width="0.9" />
<text x="569.2" y="544.8" font-size="10.8" fill="#111" text-anchor="end" >Viral protein interaction with cytokine and cytokine receptor</text>
<circle cx="611.4" cy="555.4" r="4.8" fill="#ff0a12"/>
<line x1="570.3" y1="555.4" x2="573.1" y2="555.4" stroke="#333" stroke-width="0.9" />
<text x="569.2" y="559.2" font-size="10.8" fill="#111" text-anchor="end" >Influenza A</text>
<circle cx="588.9" cy="569.9" r="4.1" fill="#ff0a12"/>
<line x1="570.3" y1="569.9" x2="573.1" y2="569.9" stroke="#333" stroke-width="0.9" />
<text x="569.2" y="573.7" font-size="10.8" fill="#111" text-anchor="end" >Cytokine−cytokine receptor interaction</text>
<circle cx="586.1" cy="584.3" r="2.5" fill="#ff0a12"/>
<line x1="570.3" y1="584.3" x2="573.1" y2="584.3" stroke="#333" stroke-width="0.9" />
<text x="569.2" y="588.1" font-size="10.8" fill="#111" text-anchor="end" >IL−17 signaling pathway</text>
<circle cx="579.7" cy="598.8" r="4.1" fill="#ff0a12"/>
<line x1="570.3" y1="598.8" x2="573.1" y2="598.8" stroke="#333" stroke-width="0.9" />
<text x="569.2" y="602.6" font-size="10.8" fill="#111" text-anchor="end" >NOD−like receptor signaling pathway</text>
<rect x="573.1" y="459.6" width="148.4" height="147.9" fill="none" stroke="#333" stroke-width="0.9"/>
<line x1="600.6" y1="607.5" x2="600.6" y2="610.3" stroke="#333" stroke-width="0.9" />
<text x="600.6" y="619.4" font-size="10" fill="#4d4d4d" text-anchor="middle" >0.4</text>
<line x1="645.4" y1="607.5" x2="645.4" y2="610.3" stroke="#333" stroke-width="0.9" />
<text x="645.4" y="619.4" font-size="10" fill="#4d4d4d" text-anchor="middle" >0.6</text>
<line x1="690.2" y1="607.5" x2="690.2" y2="610.3" stroke="#333" stroke-width="0.9" />
<text x="690.2" y="619.4" font-size="10" fill="#4d4d4d" text-anchor="middle" >0.8</text>
<text x="646.7" y="631" font-size="10" fill="#000" text-anchor="middle" >GeneRatio</text>
<text x="732" y="479.2" font-size="7.6" fill="#1a1a1a" text-anchor="start" >Count</text>
<circle cx="740.1" cy="488.9" r="4.1" fill="#000"/>
<text x="751.1" y="491.6" font-size="7.4" fill="#333" text-anchor="start" >40</text>
<circle cx="740.1" cy="500.2" r="5.0" fill="#000"/>
<text x="751.1" y="502.9" font-size="7.4" fill="#333" text-anchor="start" >60</text>
<circle cx="740.1" cy="513.5" r="5.8" fill="#000"/>
<text x="751.1" y="516.2" font-size="7.4" fill="#333" text-anchor="start" >80</text>
<circle cx="740.1" cy="527.8" r="6.2" fill="#000"/>
<text x="751.1" y="530.5" font-size="7.4" fill="#333" text-anchor="start" >100</text>
<text x="732" y="556.4" font-size="7.6" fill="#1a1a1a" text-anchor="start" >p.adjust</text>
<defs><linearGradient id="kp" x1="0" y1="0" x2="0" y2="1"><stop offset="0" stop-color="#ff0a28"/><stop offset="0.35" stop-color="#e0107a"/><stop offset="0.7" stop-color="#a010c0"/><stop offset="1" stop-color="#3a20ff"/></linearGradient></defs>
<rect x="732.2" y="561.3" width="7.6" height="34.4" fill="url(#kp)"/>
<line x1="732.2" y1="569.5" x2="733.6" y2="569.5" stroke="#fff" stroke-width="0.6" />
<line x1="738.4" y1="569.5" x2="739.8" y2="569.5" stroke="#fff" stroke-width="0.6" />
<text x="742.4" y="572.2" font-size="7.5" fill="#333" text-anchor="start" >2e−05</text>
<line x1="732.2" y1="577.8" x2="733.6" y2="577.8" stroke="#fff" stroke-width="0.6" />
<line x1="738.4" y1="577.8" x2="739.8" y2="577.8" stroke="#fff" stroke-width="0.6" />
<text x="742.4" y="580.5" font-size="7.5" fill="#333" text-anchor="start" >4e−05</text>
<line x1="732.2" y1="586.1" x2="733.6" y2="586.1" stroke="#fff" stroke-width="0.6" />
<line x1="738.4" y1="586.1" x2="739.8" y2="586.1" stroke="#fff" stroke-width="0.6" />
<text x="742.4" y="588.8" font-size="7.5" fill="#333" text-anchor="start" >6e−05</text>
<line x1="732.2" y1="594.4" x2="733.6" y2="594.4" stroke="#fff" stroke-width="0.6" />
<line x1="738.4" y1="594.4" x2="739.8" y2="594.4" stroke="#fff" stroke-width="0.6" />
<text x="742.4" y="597.1" font-size="7.5" fill="#333" text-anchor="start" >8e−05</text>
<line x1="305.8" y1="691.3" x2="273.4" y2="648.8" stroke="#d9574a" stroke-width="1.9" />
<line x1="305.8" y1="691.3" x2="323.9" y2="644.4" stroke="#d9574a" stroke-width="1.9" />
<line x1="305.8" y1="691.3" x2="364" y2="677.7" stroke="#d9574a" stroke-width="1.9" />
<line x1="305.8" y1="691.3" x2="247.1" y2="686.9" stroke="#d9574a" stroke-width="1.9" />
<line x1="305.8" y1="691.3" x2="360.6" y2="721.7" stroke="#d9574a" stroke-width="1.9" />
<line x1="305.8" y1="691.3" x2="310.6" y2="738.2" stroke="#d9574a" stroke-width="1.9" />
<line x1="305.8" y1="691.3" x2="259.4" y2="729.3" stroke="#d9574a" stroke-width="1.9" />
<line x1="479.6" y1="679.8" x2="484" y2="632.2" stroke="#d9574a" stroke-width="1.9" />
<line x1="479.6" y1="679.8" x2="426.7" y2="646" stroke="#d9574a" stroke-width="1.9" />
<line x1="479.6" y1="679.8" x2="536.1" y2="662.7" stroke="#3b8fc8" stroke-width="1.9" />
<line x1="479.6" y1="679.8" x2="423.2" y2="696.4" stroke="#3b8fc8" stroke-width="1.9" />
<line x1="479.6" y1="679.8" x2="532.6" y2="714.3" stroke="#3b8fc8" stroke-width="1.9" />
<line x1="479.6" y1="679.8" x2="475.5" y2="727.4" stroke="#3b8fc8" stroke-width="1.9" />
<line x1="184.3" y1="820.1" x2="200.2" y2="767.9" stroke="#3b8fc8" stroke-width="1.9" />
<line x1="184.3" y1="820.1" x2="159.6" y2="773.6" stroke="#d9574a" stroke-width="1.9" />
<line x1="184.3" y1="820.1" x2="237.6" y2="794.7" stroke="#d9574a" stroke-width="1.9" />
<line x1="184.3" y1="820.1" x2="121.1" y2="799.8" stroke="#d9574a" stroke-width="1.9" />
<line x1="184.3" y1="820.1" x2="125.2" y2="832.1" stroke="#d9574a" stroke-width="1.9" />
<line x1="184.3" y1="820.1" x2="254.1" y2="828" stroke="#3b8fc8" stroke-width="1.9" />
<line x1="184.3" y1="820.1" x2="142.9" y2="863.7" stroke="#d9574a" stroke-width="1.9" />
<line x1="184.3" y1="820.1" x2="183.7" y2="870.8" stroke="#d9574a" stroke-width="1.9" />
<line x1="184.3" y1="820.1" x2="224.3" y2="858.7" stroke="#d9574a" stroke-width="1.9" />
<line x1="308.3" y1="824.3" x2="254.1" y2="828" stroke="#3b8fc8" stroke-width="1.9" />
<line x1="327.3" y1="846" x2="254.1" y2="828" stroke="#3b8fc8" stroke-width="1.9" />
<line x1="308.3" y1="824.3" x2="285.4" y2="789.4" stroke="#d9574a" stroke-width="2.4" />
<line x1="308.3" y1="824.3" x2="328.5" y2="783.6" stroke="#d9574a" stroke-width="1.9" />
<line x1="327.3" y1="846" x2="328.5" y2="783.6" stroke="#d9574a" stroke-width="1.9" />
<line x1="308.3" y1="824.3" x2="368.6" y2="802" stroke="#d9574a" stroke-width="1.9" />
<line x1="327.3" y1="846" x2="368.6" y2="802" stroke="#d9574a" stroke-width="1.9" />
<line x1="308.3" y1="824.3" x2="373.2" y2="835.7" stroke="#d9574a" stroke-width="1.9" />
<line x1="327.3" y1="846" x2="373.2" y2="835.7" stroke="#d9574a" stroke-width="1.9" />
<line x1="308.3" y1="824.3" x2="270.3" y2="864.4" stroke="#d9574a" stroke-width="1.9" />
<line x1="327.3" y1="846" x2="270.3" y2="864.4" stroke="#d9574a" stroke-width="1.9" />
<line x1="308.3" y1="824.3" x2="356.9" y2="871.3" stroke="#d9574a" stroke-width="1.9" />
<line x1="327.3" y1="846" x2="356.9" y2="871.3" stroke="#d9574a" stroke-width="2.4" />
<line x1="308.3" y1="824.3" x2="311.8" y2="878.8" stroke="#d9574a" stroke-width="1.9" />
<line x1="327.3" y1="846" x2="311.8" y2="878.8" stroke="#d9574a" stroke-width="1.9" />
<line x1="497.4" y1="816.6" x2="447.8" y2="779.5" stroke="#3b8fc8" stroke-width="1.9" />
<line x1="486.7" y1="842" x2="447.8" y2="779.5" stroke="#3b8fc8" stroke-width="1.9" />
<line x1="497.4" y1="816.6" x2="485.7" y2="782.9" stroke="#d9574a" stroke-width="1.9" />
<line x1="486.7" y1="842" x2="485.7" y2="782.9" stroke="#d9574a" stroke-width="1.9" />
<line x1="497.4" y1="816.6" x2="525.3" y2="778.8" stroke="#d9574a" stroke-width="2.4" />
<line x1="486.7" y1="842" x2="525.3" y2="778.8" stroke="#d9574a" stroke-width="2.4" />
<line x1="497.4" y1="816.6" x2="432.2" y2="808.2" stroke="#d9574a" stroke-width="1.9" />
<line x1="486.7" y1="842" x2="432.2" y2="808.2" stroke="#d9574a" stroke-width="1.9" />
<line x1="497.4" y1="816.6" x2="548.7" y2="808.2" stroke="#3b8fc8" stroke-width="1.9" />
<line x1="486.7" y1="842" x2="548.7" y2="808.2" stroke="#3b8fc8" stroke-width="1.9" />
<line x1="497.4" y1="816.6" x2="429.5" y2="839.1" stroke="#d9574a" stroke-width="1.9" />
<line x1="486.7" y1="842" x2="429.5" y2="839.1" stroke="#d9574a" stroke-width="1.9" />
<line x1="497.4" y1="816.6" x2="546.9" y2="839.1" stroke="#d9574a" stroke-width="1.9" />
<line x1="486.7" y1="842" x2="546.9" y2="839.1" stroke="#d9574a" stroke-width="1.9" />
<line x1="497.4" y1="816.6" x2="452" y2="867.3" stroke="#d9574a" stroke-width="1.9" />
<line x1="486.7" y1="842" x2="452" y2="867.3" stroke="#d9574a" stroke-width="1.9" />
<line x1="497.4" y1="816.6" x2="491.9" y2="874.7" stroke="#d9574a" stroke-width="1.9" />
<line x1="486.7" y1="842" x2="491.9" y2="874.7" stroke="#d9574a" stroke-width="1.9" />
<line x1="497.4" y1="816.6" x2="531.5" y2="867.8" stroke="#d9574a" stroke-width="1.9" />
<line x1="486.7" y1="842" x2="531.5" y2="867.8" stroke="#d9574a" stroke-width="1.9" />
<line x1="184.8" y1="957" x2="190.6" y2="909.6" stroke="#d9574a" stroke-width="1.9" />
<line x1="184.8" y1="957" x2="133.2" y2="921.3" stroke="#d9574a" stroke-width="1.9" />
<line x1="184.8" y1="957" x2="241.5" y2="942" stroke="#d9574a" stroke-width="1.9" />
<line x1="184.8" y1="957" x2="127.5" y2="971.8" stroke="#d9574a" stroke-width="1.9" />
<line x1="184.8" y1="957" x2="236" y2="992.2" stroke="#d9574a" stroke-width="1.9" />
<line x1="184.8" y1="957" x2="179.1" y2="1004.3" stroke="#d9574a" stroke-width="1.9" />
<line x1="379" y1="954.5" x2="386.5" y2="896.5" stroke="#d9574a" stroke-width="1.8" />
<line x1="379" y1="954.5" x2="333.4" y2="916.3" stroke="#5aaab8" stroke-width="0.9" />
<line x1="379" y1="954.5" x2="434.2" y2="923.9" stroke="#d97060" stroke-width="1.1" />
<line x1="379" y1="954.5" x2="321" y2="958.5" stroke="#5aaab8" stroke-width="1.1" />
<line x1="379" y1="954.5" x2="437.2" y2="967.5" stroke="#4aa0b8" stroke-width="1.3" />
<line x1="379" y1="954.5" x2="347.4" y2="997" stroke="#e0a898" stroke-width="0.9" />
<line x1="379" y1="954.5" x2="397.7" y2="1000.8" stroke="#4aa0b8" stroke-width="1.3" />
<line x1="537.2" y1="961.3" x2="548.1" y2="915" stroke="#d9574a" stroke-width="1.9" />
<line x1="537.2" y1="961.3" x2="483.7" y2="930.5" stroke="#d9574a" stroke-width="1.9" />
<line x1="537.2" y1="961.3" x2="594" y2="959.7" stroke="#d9574a" stroke-width="1.9" />
<line x1="537.2" y1="961.3" x2="483.9" y2="991.3" stroke="#d9574a" stroke-width="1.9" />
<line x1="537.2" y1="961.3" x2="550.2" y2="1006.9" stroke="#d9574a" stroke-width="1.9" />
<ellipse cx="273.4" cy="648.8" rx="18" ry="8" fill="#f9cccc"/>
<ellipse cx="323.9" cy="644.4" rx="18" ry="8" fill="#f9cccc"/>
<ellipse cx="364" cy="677.7" rx="18" ry="8" fill="#f9cccc"/>
<ellipse cx="247.1" cy="686.9" rx="18" ry="8" fill="#f9cccc"/>
<ellipse cx="360.6" cy="721.7" rx="18" ry="8" fill="#f9cccc"/>
<ellipse cx="310.6" cy="738.2" rx="18" ry="8" fill="#f9cccc"/>
<ellipse cx="259.4" cy="729.3" rx="18" ry="8" fill="#f9cccc"/>
<ellipse cx="484" cy="632.2" rx="18" ry="8" fill="#f9cccc"/>
<ellipse cx="426.7" cy="646" rx="18" ry="8" fill="#f9cccc"/>
<ellipse cx="536.1" cy="662.7" rx="18" ry="8" fill="#f9cccc"/>
<ellipse cx="423.2" cy="696.4" rx="18" ry="8" fill="#f9cccc"/>
<ellipse cx="532.6" cy="714.3" rx="18" ry="8" fill="#f9cccc"/>
<ellipse cx="475.5" cy="727.4" rx="18" ry="8" fill="#f9cccc"/>
<ellipse cx="200.2" cy="767.9" rx="18" ry="8" fill="#f9cccc"/>
<ellipse cx="159.6" cy="773.6" rx="18" ry="8" fill="#f9cccc"/>
<ellipse cx="237.6" cy="794.7" rx="18" ry="8" fill="#f9cccc"/>
<ellipse cx="121.1" cy="799.8" rx="18" ry="8" fill="#f9cccc"/>
<ellipse cx="125.2" cy="832.1" rx="18" ry="8" fill="#f9cccc"/>
<ellipse cx="254.1" cy="828" rx="18" ry="8" fill="#f9cccc"/>
<ellipse cx="142.9" cy="863.7" rx="18" ry="8" fill="#f9cccc"/>
<ellipse cx="183.7" cy="870.8" rx="18" ry="8" fill="#f9cccc"/>
<ellipse cx="224.3" cy="858.7" rx="18" ry="8" fill="#f9cccc"/>
<ellipse cx="285.4" cy="789.4" rx="18" ry="8" fill="#f9cccc"/>
<ellipse cx="328.5" cy="783.6" rx="18" ry="8" fill="#f9cccc"/>
<ellipse cx="368.6" cy="802" rx="18" ry="8" fill="#f9cccc"/>
<ellipse cx="373.2" cy="835.7" rx="18" ry="8" fill="#f9cccc"/>
<ellipse cx="270.3" cy="864.4" rx="18" ry="8" fill="#f9cccc"/>
<ellipse cx="356.9" cy="871.3" rx="18" ry="8" fill="#f9cccc"/>
<ellipse cx="311.8" cy="878.8" rx="18" ry="8" fill="#f9cccc"/>
<ellipse cx="447.8" cy="779.5" rx="18" ry="8" fill="#f9cccc"/>
<ellipse cx="485.7" cy="782.9" rx="18" ry="8" fill="#f9cccc"/>
<ellipse cx="525.3" cy="778.8" rx="18" ry="8" fill="#f9cccc"/>
<ellipse cx="432.2" cy="808.2" rx="18" ry="8" fill="#f9cccc"/>
<ellipse cx="548.7" cy="808.2" rx="18" ry="8" fill="#f9cccc"/>
<ellipse cx="429.5" cy="839.1" rx="18" ry="8" fill="#f9cccc"/>
<ellipse cx="546.9" cy="839.1" rx="18" ry="8" fill="#f9cccc"/>
<ellipse cx="452" cy="867.3" rx="18" ry="8" fill="#f9cccc"/>
<ellipse cx="491.9" cy="874.7" rx="18" ry="8" fill="#f9cccc"/>
<ellipse cx="531.5" cy="867.8" rx="18" ry="8" fill="#f9cccc"/>
<ellipse cx="190.6" cy="909.6" rx="18" ry="8" fill="#f9cccc"/>
<ellipse cx="133.2" cy="921.3" rx="18" ry="8" fill="#f9cccc"/>
<ellipse cx="241.5" cy="942" rx="18" ry="8" fill="#f9cccc"/>
<ellipse cx="127.5" cy="971.8" rx="18" ry="8" fill="#f9cccc"/>
<ellipse cx="236" cy="992.2" rx="18" ry="8" fill="#f9cccc"/>
<ellipse cx="179.1" cy="1004.3" rx="18" ry="8" fill="#f9cccc"/>
<ellipse cx="379" cy="954.5" rx="18" ry="8" fill="#f9cccc"/>
<ellipse cx="548.1" cy="915" rx="18" ry="8" fill="#f9cccc"/>
<ellipse cx="483.7" cy="930.5" rx="18" ry="8" fill="#f9cccc"/>
<ellipse cx="594" cy="959.7" rx="18" ry="8" fill="#f9cccc"/>
<ellipse cx="483.9" cy="991.3" rx="18" ry="8" fill="#f9cccc"/>
<ellipse cx="550.2" cy="1006.9" rx="18" ry="8" fill="#f9cccc"/>
<rect x="287.6" y="682.9" width="36.4" height="16.8" rx="1.5" fill="#ccccfa"/>
<rect x="461.4" y="671.4" width="36.4" height="16.8" rx="1.5" fill="#ccccfa"/>
<rect x="166.1" y="811.7" width="36.4" height="16.8" rx="1.5" fill="#ccccfa"/>
<rect x="290.1" y="815.9" width="36.4" height="16.8" rx="1.5" fill="#ccccfa"/>
<rect x="309.1" y="837.6" width="36.4" height="16.8" rx="1.5" fill="#ccccfa"/>
<rect x="479.2" y="808.2" width="36.4" height="16.8" rx="1.5" fill="#ccccfa"/>
<rect x="468.5" y="833.6" width="36.4" height="16.8" rx="1.5" fill="#ccccfa"/>
<rect x="166.6" y="948.6" width="36.4" height="16.8" rx="1.5" fill="#ccccfa"/>
<rect x="368.3" y="888.1" width="36.4" height="16.8" rx="1.5" fill="#ccccfa"/>
<rect x="315.2" y="907.9" width="36.4" height="16.8" rx="1.5" fill="#ccccfa"/>
<rect x="416" y="915.5" width="36.4" height="16.8" rx="1.5" fill="#ccccfa"/>
<rect x="302.8" y="950.1" width="36.4" height="16.8" rx="1.5" fill="#ccccfa"/>
<rect x="419" y="959.1" width="36.4" height="16.8" rx="1.5" fill="#ccccfa"/>
<rect x="329.2" y="988.6" width="36.4" height="16.8" rx="1.5" fill="#ccccfa"/>
<rect x="379.5" y="992.4" width="36.4" height="16.8" rx="1.5" fill="#ccccfa"/>
<rect x="519" y="952.9" width="36.4" height="16.8" rx="1.5" fill="#ccccfa"/>
<text x="305.8" y="694.4" font-size="8.9" fill="#000" text-anchor="middle" >SMARCC2</text>
<text x="273.4" y="651.9" font-size="8.9" fill="#000" text-anchor="middle" >GIT1</text>
<text x="323.9" y="647.5" font-size="8.9" fill="#000" text-anchor="middle" >ANG</text>
<text x="364" y="680.9" font-size="8.9" fill="#000" text-anchor="middle" >TSPAN15</text>
<text x="247.1" y="690" font-size="8.9" fill="#000" text-anchor="middle" >OSBPL1A</text>
<text x="360.6" y="724.9" font-size="8.9" fill="#000" text-anchor="middle" >CFL2</text>
<text x="310.6" y="741.4" font-size="8.9" fill="#000" text-anchor="middle" >NDN</text>
<text x="259.4" y="732.4" font-size="8.9" fill="#000" text-anchor="middle" >GBE1</text>
<text x="479.6" y="682.9" font-size="8.9" fill="#000" text-anchor="middle" >NFAT5</text>
<text x="484" y="635.4" font-size="8.9" fill="#000" text-anchor="middle" >NPDC1</text>
<text x="426.7" y="649.1" font-size="8.9" fill="#000" text-anchor="middle" >DAAM2</text>
<text x="536.1" y="665.9" font-size="8.9" fill="#000" text-anchor="middle" >CD24</text>
<text x="423.2" y="699.5" font-size="8.9" fill="#000" text-anchor="middle" >S100A9</text>
<text x="532.6" y="717.4" font-size="8.9" fill="#000" text-anchor="middle" >S100A8</text>
<text x="475.5" y="730.5" font-size="8.9" fill="#000" text-anchor="middle" >TMEM40</text>
<text x="184.3" y="823.2" font-size="8.9" fill="#000" text-anchor="middle" >HMGXB3</text>
<text x="200.2" y="771" font-size="8.9" fill="#000" text-anchor="middle" >GJB5</text>
<text x="159.6" y="776.8" font-size="8.9" fill="#000" text-anchor="middle" >LZTR1</text>
<text x="237.6" y="797.9" font-size="8.9" fill="#000" text-anchor="middle" >NEGR1</text>
<text x="121.1" y="802.9" font-size="8.9" fill="#000" text-anchor="middle" >PKIG</text>
<text x="125.2" y="835.2" font-size="8.9" fill="#000" text-anchor="middle" >DDR2</text>
<text x="254.1" y="831.1" font-size="8.9" fill="#000" text-anchor="middle" >FAM83A</text>
<text x="142.9" y="866.9" font-size="8.9" fill="#000" text-anchor="middle" >TEK</text>
<text x="183.7" y="873.9" font-size="8.9" fill="#000" text-anchor="middle" >TGFB3</text>
<text x="224.3" y="861.9" font-size="8.9" fill="#000" text-anchor="middle" >LIMS2</text>
<text x="308.3" y="827.4" font-size="8.9" fill="#000" text-anchor="middle" >PRRX1</text>
<text x="327.3" y="849.1" font-size="8.9" fill="#000" text-anchor="middle" >FOXP1</text>
<text x="285.4" y="792.5" font-size="8.9" fill="#000" text-anchor="middle" >DAB2</text>
<text x="328.5" y="786.8" font-size="8.9" fill="#000" text-anchor="middle" >CHD6</text>
<text x="368.6" y="805.1" font-size="8.9" fill="#000" text-anchor="middle" >SKI</text>
<text x="373.2" y="838.9" font-size="8.9" fill="#000" text-anchor="middle" >ZCCHC24</text>
<text x="270.3" y="867.5" font-size="8.9" fill="#000" text-anchor="middle" >PLOD1</text>
<text x="356.9" y="874.4" font-size="8.9" fill="#000" text-anchor="middle" >TK2</text>
<text x="311.8" y="881.9" font-size="8.9" fill="#000" text-anchor="middle" >CFAP410</text>
<text x="447.8" y="782.6" font-size="8.9" fill="#000" text-anchor="middle" >HSD17B1</text>
<text x="485.7" y="786" font-size="8.9" fill="#000" text-anchor="middle" >FAM120B</text>
<text x="525.3" y="781.9" font-size="8.9" fill="#000" text-anchor="middle" >TTLL3</text>
<text x="432.2" y="811.4" font-size="8.9" fill="#000" text-anchor="middle" >RRAGB</text>
<text x="548.7" y="811.4" font-size="8.9" fill="#000" text-anchor="middle" >CRB3</text>
<text x="429.5" y="842.2" font-size="8.9" fill="#000" text-anchor="middle" >PEAK1</text>
<text x="546.9" y="842.2" font-size="8.9" fill="#000" text-anchor="middle" >NBPF10</text>
<text x="452" y="870.4" font-size="8.9" fill="#000" text-anchor="middle" >RBMS3</text>
<text x="491.9" y="877.9" font-size="8.9" fill="#000" text-anchor="middle" >FAM126A</text>
<text x="531.5" y="870.9" font-size="8.9" fill="#000" text-anchor="middle" >PKP4</text>
<text x="497.4" y="819.8" font-size="8.9" fill="#000" text-anchor="middle" >RFX7</text>
<text x="486.7" y="845.1" font-size="8.9" fill="#000" text-anchor="middle" >RUNX1</text>
<text x="184.8" y="960.1" font-size="8.9" fill="#000" text-anchor="middle" >ZFHX3</text>
<text x="190.6" y="912.8" font-size="8.9" fill="#000" text-anchor="middle" >ITGA1</text>
<text x="133.2" y="924.4" font-size="8.9" fill="#000" text-anchor="middle" >PXDC1</text>
<text x="241.5" y="945.1" font-size="8.9" fill="#000" text-anchor="middle" >GLG1</text>
<text x="127.5" y="974.9" font-size="8.9" fill="#000" text-anchor="middle" >PGAP1</text>
<text x="236" y="995.4" font-size="8.9" fill="#000" text-anchor="middle" >FARP1</text>
<text x="179.1" y="1007.4" font-size="8.9" fill="#000" text-anchor="middle" >KIAA1109</text>
<text x="379" y="957.6" font-size="8.9" fill="#000" text-anchor="middle" >CXCL16</text>
<text x="386.5" y="899.6" font-size="8.9" fill="#000" text-anchor="middle" >TLR7</text>
<text x="333.4" y="919.4" font-size="8.9" fill="#000" text-anchor="middle" >CREBRF</text>
<text x="434.2" y="927" font-size="8.9" fill="#000" text-anchor="middle" >SUB1</text>
<text x="321" y="961.6" font-size="8.9" fill="#000" text-anchor="middle" >HOXC9</text>
<text x="437.2" y="970.6" font-size="8.9" fill="#000" text-anchor="middle" >ZNF529</text>
<text x="347.4" y="1000.1" font-size="8.9" fill="#000" text-anchor="middle" >ZNF750</text>
<text x="397.7" y="1003.9" font-size="8.9" fill="#000" text-anchor="middle" >ZSCAN18</text>
<text x="537.2" y="964.4" font-size="8.9" fill="#000" text-anchor="middle" >CREBL2</text>
<text x="548.1" y="918.1" font-size="8.9" fill="#000" text-anchor="middle" >CALD1</text>
<text x="483.7" y="933.6" font-size="8.9" fill="#000" text-anchor="middle" >EFEMP2</text>
<text x="594" y="962.9" font-size="8.9" fill="#000" text-anchor="middle" >CNRIP1</text>
<text x="483.9" y="994.4" font-size="8.9" fill="#000" text-anchor="middle" >PLPBP</text>
<text x="550.2" y="1010" font-size="8.9" fill="#000" text-anchor="middle" >VIT</text>
</svg></body></html>
